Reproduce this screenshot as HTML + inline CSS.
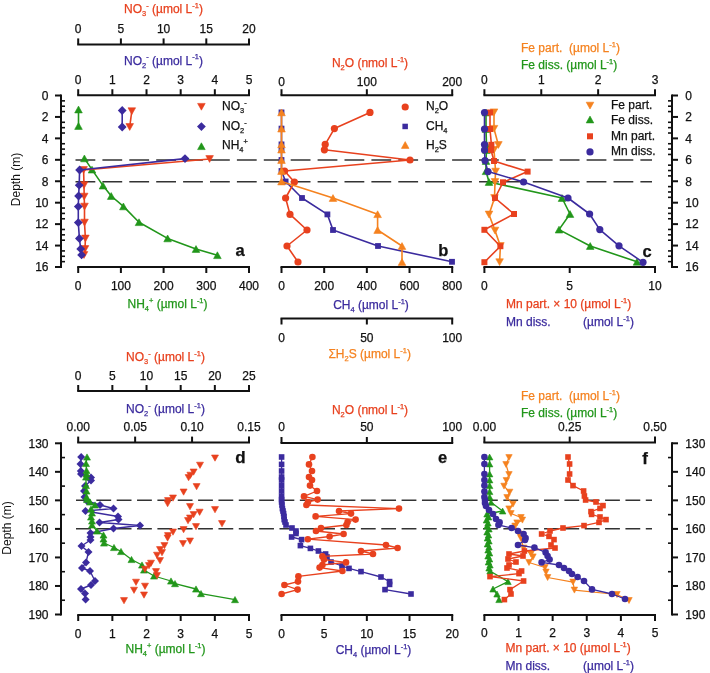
<!DOCTYPE html>
<html><head><meta charset="utf-8"><style>
html,body{margin:0;padding:0;background:#fff;width:710px;height:673px;overflow:hidden}
svg{display:block}
text{font-family:"Liberation Sans", sans-serif}
svg{will-change:transform}
</style></head><body>
<svg width="710" height="673" viewBox="0 0 710 673" font-family='"Liberation Sans", sans-serif'>
<rect width="710" height="673" fill="#fff"/>
<line x1="75.5" y1="160.0" x2="652" y2="160.0" stroke="#333" stroke-width="1.4" stroke-dasharray="19.8 7.1"/>
<line x1="75.5" y1="181.8" x2="652" y2="181.8" stroke="#333" stroke-width="1.4" stroke-dasharray="19.8 7.1"/>
<line x1="77.2" y1="44.4" x2="250.0" y2="44.4" stroke="#111" stroke-width="2" />
<line x1="78.2" y1="44.4" x2="78.2" y2="38.4" stroke="#111" stroke-width="2" />
<line x1="120.9" y1="44.4" x2="120.9" y2="38.4" stroke="#111" stroke-width="2" />
<line x1="163.60000000000002" y1="44.4" x2="163.60000000000002" y2="38.4" stroke="#111" stroke-width="2" />
<line x1="206.3" y1="44.4" x2="206.3" y2="38.4" stroke="#111" stroke-width="2" />
<line x1="249.0" y1="44.4" x2="249.0" y2="38.4" stroke="#111" stroke-width="2" />
<text x="78.2" y="33.32" text-anchor="middle" font-size="12.0" fill="#111" stroke="#111" stroke-width="0.25" font-weight="normal">0</text>
<text x="120.9" y="33.32" text-anchor="middle" font-size="12.0" fill="#111" stroke="#111" stroke-width="0.25" font-weight="normal">5</text>
<text x="163.60000000000002" y="33.32" text-anchor="middle" font-size="12.0" fill="#111" stroke="#111" stroke-width="0.25" font-weight="normal">10</text>
<text x="206.3" y="33.32" text-anchor="middle" font-size="12.0" fill="#111" stroke="#111" stroke-width="0.25" font-weight="normal">15</text>
<text x="249.0" y="33.32" text-anchor="middle" font-size="12.0" fill="#111" stroke="#111" stroke-width="0.25" font-weight="normal">20</text>
<line x1="77.2" y1="95.2" x2="250.0" y2="95.2" stroke="#111" stroke-width="2" />
<line x1="78.2" y1="95.2" x2="78.2" y2="89.2" stroke="#111" stroke-width="2" />
<line x1="112.36000000000001" y1="95.2" x2="112.36000000000001" y2="89.2" stroke="#111" stroke-width="2" />
<line x1="146.52" y1="95.2" x2="146.52" y2="89.2" stroke="#111" stroke-width="2" />
<line x1="180.68" y1="95.2" x2="180.68" y2="89.2" stroke="#111" stroke-width="2" />
<line x1="214.84000000000003" y1="95.2" x2="214.84000000000003" y2="89.2" stroke="#111" stroke-width="2" />
<line x1="249.0" y1="95.2" x2="249.0" y2="89.2" stroke="#111" stroke-width="2" />
<text x="78.2" y="84.32" text-anchor="middle" font-size="12.0" fill="#111" stroke="#111" stroke-width="0.25" font-weight="normal">0</text>
<text x="112.36000000000001" y="84.32" text-anchor="middle" font-size="12.0" fill="#111" stroke="#111" stroke-width="0.25" font-weight="normal">1</text>
<text x="146.52" y="84.32" text-anchor="middle" font-size="12.0" fill="#111" stroke="#111" stroke-width="0.25" font-weight="normal">2</text>
<text x="180.68" y="84.32" text-anchor="middle" font-size="12.0" fill="#111" stroke="#111" stroke-width="0.25" font-weight="normal">3</text>
<text x="214.84000000000003" y="84.32" text-anchor="middle" font-size="12.0" fill="#111" stroke="#111" stroke-width="0.25" font-weight="normal">4</text>
<text x="249.0" y="84.32" text-anchor="middle" font-size="12.0" fill="#111" stroke="#111" stroke-width="0.25" font-weight="normal">5</text>
<line x1="77.2" y1="267.0" x2="250.0" y2="267.0" stroke="#111" stroke-width="2" />
<line x1="78.2" y1="267.0" x2="78.2" y2="273.0" stroke="#111" stroke-width="2" />
<line x1="120.9" y1="267.0" x2="120.9" y2="273.0" stroke="#111" stroke-width="2" />
<line x1="163.60000000000002" y1="267.0" x2="163.60000000000002" y2="273.0" stroke="#111" stroke-width="2" />
<line x1="206.3" y1="267.0" x2="206.3" y2="273.0" stroke="#111" stroke-width="2" />
<line x1="249.0" y1="267.0" x2="249.0" y2="273.0" stroke="#111" stroke-width="2" />
<text x="78.2" y="289.82" text-anchor="middle" font-size="12.0" fill="#111" stroke="#111" stroke-width="0.25" font-weight="normal">0</text>
<text x="120.9" y="289.82" text-anchor="middle" font-size="12.0" fill="#111" stroke="#111" stroke-width="0.25" font-weight="normal">100</text>
<text x="163.60000000000002" y="289.82" text-anchor="middle" font-size="12.0" fill="#111" stroke="#111" stroke-width="0.25" font-weight="normal">200</text>
<text x="206.3" y="289.82" text-anchor="middle" font-size="12.0" fill="#111" stroke="#111" stroke-width="0.25" font-weight="normal">300</text>
<text x="249.0" y="289.82" text-anchor="middle" font-size="12.0" fill="#111" stroke="#111" stroke-width="0.25" font-weight="normal">400</text>
<text x="163.5" y="12.92" text-anchor="middle" font-size="12.0" fill="#e8411e" stroke="#e8411e" stroke-width="0.25"><tspan dy="0.00" font-size="12.00">NO</tspan><tspan dy="3.12" font-size="7.44">3</tspan><tspan dy="-8.16" font-size="7.44">-</tspan><tspan dy="5.04" font-size="12.00"> (µmol L</tspan><tspan dy="-5.04" font-size="7.44">-1</tspan><tspan dy="5.04" font-size="12.00">)</tspan></text>
<text x="163.5" y="64.52" text-anchor="middle" font-size="12.0" fill="#3b2b9e" stroke="#3b2b9e" stroke-width="0.25"><tspan dy="0.00" font-size="12.00">NO</tspan><tspan dy="3.12" font-size="7.44">2</tspan><tspan dy="-8.16" font-size="7.44">-</tspan><tspan dy="5.04" font-size="12.00"> (µmol L</tspan><tspan dy="-5.04" font-size="7.44">-1</tspan><tspan dy="5.04" font-size="12.00">)</tspan></text>
<text x="167.5" y="307.82" text-anchor="middle" font-size="12.0" fill="#21961a" stroke="#21961a" stroke-width="0.25"><tspan dy="0.00" font-size="12.00">NH</tspan><tspan dy="3.12" font-size="7.44">4</tspan><tspan dy="-8.16" font-size="7.44">+</tspan><tspan dy="5.04" font-size="12.00"> (µmol L</tspan><tspan dy="-5.04" font-size="7.44">-1</tspan><tspan dy="5.04" font-size="12.00">)</tspan></text>
<line x1="61" y1="94.5" x2="61" y2="268.0" stroke="#111" stroke-width="2" />
<line x1="55" y1="95.5" x2="61" y2="95.5" stroke="#111" stroke-width="2" />
<line x1="55" y1="116.9375" x2="61" y2="116.9375" stroke="#111" stroke-width="2" />
<line x1="55" y1="138.375" x2="61" y2="138.375" stroke="#111" stroke-width="2" />
<line x1="55" y1="159.8125" x2="61" y2="159.8125" stroke="#111" stroke-width="2" />
<line x1="55" y1="181.25" x2="61" y2="181.25" stroke="#111" stroke-width="2" />
<line x1="55" y1="202.6875" x2="61" y2="202.6875" stroke="#111" stroke-width="2" />
<line x1="55" y1="224.125" x2="61" y2="224.125" stroke="#111" stroke-width="2" />
<line x1="55" y1="245.5625" x2="61" y2="245.5625" stroke="#111" stroke-width="2" />
<line x1="55" y1="267.0" x2="61" y2="267.0" stroke="#111" stroke-width="2" />
<line x1="61" y1="100.859375" x2="65" y2="100.859375" stroke="#111" stroke-width="1.6" />
<line x1="61" y1="106.21875" x2="65" y2="106.21875" stroke="#111" stroke-width="1.6" />
<line x1="61" y1="111.578125" x2="65" y2="111.578125" stroke="#111" stroke-width="1.6" />
<line x1="61" y1="122.296875" x2="65" y2="122.296875" stroke="#111" stroke-width="1.6" />
<line x1="61" y1="127.65625" x2="65" y2="127.65625" stroke="#111" stroke-width="1.6" />
<line x1="61" y1="133.015625" x2="65" y2="133.015625" stroke="#111" stroke-width="1.6" />
<line x1="61" y1="143.734375" x2="65" y2="143.734375" stroke="#111" stroke-width="1.6" />
<line x1="61" y1="149.09375" x2="65" y2="149.09375" stroke="#111" stroke-width="1.6" />
<line x1="61" y1="154.453125" x2="65" y2="154.453125" stroke="#111" stroke-width="1.6" />
<line x1="61" y1="165.171875" x2="65" y2="165.171875" stroke="#111" stroke-width="1.6" />
<line x1="61" y1="170.53125" x2="65" y2="170.53125" stroke="#111" stroke-width="1.6" />
<line x1="61" y1="175.890625" x2="65" y2="175.890625" stroke="#111" stroke-width="1.6" />
<line x1="61" y1="186.609375" x2="65" y2="186.609375" stroke="#111" stroke-width="1.6" />
<line x1="61" y1="191.96875" x2="65" y2="191.96875" stroke="#111" stroke-width="1.6" />
<line x1="61" y1="197.328125" x2="65" y2="197.328125" stroke="#111" stroke-width="1.6" />
<line x1="61" y1="208.046875" x2="65" y2="208.046875" stroke="#111" stroke-width="1.6" />
<line x1="61" y1="213.40625" x2="65" y2="213.40625" stroke="#111" stroke-width="1.6" />
<line x1="61" y1="218.765625" x2="65" y2="218.765625" stroke="#111" stroke-width="1.6" />
<line x1="61" y1="229.484375" x2="65" y2="229.484375" stroke="#111" stroke-width="1.6" />
<line x1="61" y1="234.84375" x2="65" y2="234.84375" stroke="#111" stroke-width="1.6" />
<line x1="61" y1="240.203125" x2="65" y2="240.203125" stroke="#111" stroke-width="1.6" />
<line x1="61" y1="250.921875" x2="65" y2="250.921875" stroke="#111" stroke-width="1.6" />
<line x1="61" y1="256.28125" x2="65" y2="256.28125" stroke="#111" stroke-width="1.6" />
<line x1="61" y1="261.640625" x2="65" y2="261.640625" stroke="#111" stroke-width="1.6" />
<text x="48.5" y="99.82" text-anchor="end" font-size="12.0" fill="#111" stroke="#111" stroke-width="0.25" font-weight="normal">0</text>
<text x="48.5" y="121.26" text-anchor="end" font-size="12.0" fill="#111" stroke="#111" stroke-width="0.25" font-weight="normal">2</text>
<text x="48.5" y="142.69" text-anchor="end" font-size="12.0" fill="#111" stroke="#111" stroke-width="0.25" font-weight="normal">4</text>
<text x="48.5" y="164.13" text-anchor="end" font-size="12.0" fill="#111" stroke="#111" stroke-width="0.25" font-weight="normal">6</text>
<text x="48.5" y="185.57" text-anchor="end" font-size="12.0" fill="#111" stroke="#111" stroke-width="0.25" font-weight="normal">8</text>
<text x="48.5" y="207.01" text-anchor="end" font-size="12.0" fill="#111" stroke="#111" stroke-width="0.25" font-weight="normal">10</text>
<text x="48.5" y="228.44" text-anchor="end" font-size="12.0" fill="#111" stroke="#111" stroke-width="0.25" font-weight="normal">12</text>
<text x="48.5" y="249.88" text-anchor="end" font-size="12.0" fill="#111" stroke="#111" stroke-width="0.25" font-weight="normal">14</text>
<text x="48.5" y="271.32" text-anchor="end" font-size="12.0" fill="#111" stroke="#111" stroke-width="0.25" font-weight="normal">16</text>
<text transform="translate(19.7,179.5) rotate(-90)" text-anchor="middle" font-size="12" fill="#111">Depth (m)</text>
<line x1="280.5" y1="95.2" x2="453.2" y2="95.2" stroke="#111" stroke-width="2" />
<line x1="281.5" y1="95.2" x2="281.5" y2="89.2" stroke="#111" stroke-width="2" />
<line x1="366.85" y1="95.2" x2="366.85" y2="89.2" stroke="#111" stroke-width="2" />
<line x1="452.2" y1="95.2" x2="452.2" y2="89.2" stroke="#111" stroke-width="2" />
<text x="281.5" y="85.82" text-anchor="middle" font-size="12.0" fill="#111" stroke="#111" stroke-width="0.25" font-weight="normal">0</text>
<text x="366.85" y="85.82" text-anchor="middle" font-size="12.0" fill="#111" stroke="#111" stroke-width="0.25" font-weight="normal">100</text>
<text x="452.2" y="85.82" text-anchor="middle" font-size="12.0" fill="#111" stroke="#111" stroke-width="0.25" font-weight="normal">200</text>
<line x1="280.5" y1="267.0" x2="453.2" y2="267.0" stroke="#111" stroke-width="2" />
<line x1="281.5" y1="267.0" x2="281.5" y2="273.0" stroke="#111" stroke-width="2" />
<line x1="324.175" y1="267.0" x2="324.175" y2="273.0" stroke="#111" stroke-width="2" />
<line x1="366.85" y1="267.0" x2="366.85" y2="273.0" stroke="#111" stroke-width="2" />
<line x1="409.525" y1="267.0" x2="409.525" y2="273.0" stroke="#111" stroke-width="2" />
<line x1="452.2" y1="267.0" x2="452.2" y2="273.0" stroke="#111" stroke-width="2" />
<text x="281.5" y="289.82" text-anchor="middle" font-size="12.0" fill="#111" stroke="#111" stroke-width="0.25" font-weight="normal">0</text>
<text x="324.175" y="289.82" text-anchor="middle" font-size="12.0" fill="#111" stroke="#111" stroke-width="0.25" font-weight="normal">200</text>
<text x="366.85" y="289.82" text-anchor="middle" font-size="12.0" fill="#111" stroke="#111" stroke-width="0.25" font-weight="normal">400</text>
<text x="409.525" y="289.82" text-anchor="middle" font-size="12.0" fill="#111" stroke="#111" stroke-width="0.25" font-weight="normal">600</text>
<text x="452.2" y="289.82" text-anchor="middle" font-size="12.0" fill="#111" stroke="#111" stroke-width="0.25" font-weight="normal">800</text>
<line x1="280.5" y1="318.5" x2="453.2" y2="318.5" stroke="#111" stroke-width="2" />
<line x1="281.5" y1="318.5" x2="281.5" y2="324.5" stroke="#111" stroke-width="2" />
<line x1="366.85" y1="318.5" x2="366.85" y2="324.5" stroke="#111" stroke-width="2" />
<line x1="452.2" y1="318.5" x2="452.2" y2="324.5" stroke="#111" stroke-width="2" />
<text x="281.5" y="341.52" text-anchor="middle" font-size="12.0" fill="#111" stroke="#111" stroke-width="0.25" font-weight="normal">0</text>
<text x="366.85" y="341.52" text-anchor="middle" font-size="12.0" fill="#111" stroke="#111" stroke-width="0.25" font-weight="normal">50</text>
<text x="452.2" y="341.52" text-anchor="middle" font-size="12.0" fill="#111" stroke="#111" stroke-width="0.25" font-weight="normal">100</text>
<text x="370" y="66.72" text-anchor="middle" font-size="12.0" fill="#e8411e" stroke="#e8411e" stroke-width="0.25"><tspan dy="0.00" font-size="12.00">N</tspan><tspan dy="3.12" font-size="7.44">2</tspan><tspan dy="-3.12" font-size="12.00">O (nmol L</tspan><tspan dy="-5.04" font-size="7.44">-1</tspan><tspan dy="5.04" font-size="12.00">)</tspan></text>
<text x="371" y="308.72" text-anchor="middle" font-size="12.0" fill="#3b2b9e" stroke="#3b2b9e" stroke-width="0.25"><tspan dy="0.00" font-size="12.00">CH</tspan><tspan dy="3.12" font-size="7.44">4</tspan><tspan dy="-3.12" font-size="12.00"> (µmol L</tspan><tspan dy="-5.04" font-size="7.44">-1</tspan><tspan dy="5.04" font-size="12.00">)</tspan></text>
<text x="369.7" y="357.92" text-anchor="middle" font-size="12.0" fill="#f5821f" stroke="#f5821f" stroke-width="0.25"><tspan dy="0.00" font-size="12.00">ΣH</tspan><tspan dy="3.12" font-size="7.44">2</tspan><tspan dy="-3.12" font-size="12.00">S</tspan><tspan dy="0.00" font-size="12.00"> (µmol L</tspan><tspan dy="-5.04" font-size="7.44">-1</tspan><tspan dy="5.04" font-size="12.00">)</tspan></text>
<line x1="483.4" y1="95.2" x2="656.0" y2="95.2" stroke="#111" stroke-width="2" />
<line x1="484.4" y1="95.2" x2="484.4" y2="89.2" stroke="#111" stroke-width="2" />
<line x1="541.2666666666667" y1="95.2" x2="541.2666666666667" y2="89.2" stroke="#111" stroke-width="2" />
<line x1="598.1333333333333" y1="95.2" x2="598.1333333333333" y2="89.2" stroke="#111" stroke-width="2" />
<line x1="655.0" y1="95.2" x2="655.0" y2="89.2" stroke="#111" stroke-width="2" />
<text x="484.4" y="84.32" text-anchor="middle" font-size="12.0" fill="#111" stroke="#111" stroke-width="0.25" font-weight="normal">0</text>
<text x="541.2666666666667" y="84.32" text-anchor="middle" font-size="12.0" fill="#111" stroke="#111" stroke-width="0.25" font-weight="normal">1</text>
<text x="598.1333333333333" y="84.32" text-anchor="middle" font-size="12.0" fill="#111" stroke="#111" stroke-width="0.25" font-weight="normal">2</text>
<text x="655.0" y="84.32" text-anchor="middle" font-size="12.0" fill="#111" stroke="#111" stroke-width="0.25" font-weight="normal">3</text>
<line x1="483.4" y1="267.0" x2="656.0" y2="267.0" stroke="#111" stroke-width="2" />
<line x1="484.4" y1="267.0" x2="484.4" y2="273.0" stroke="#111" stroke-width="2" />
<line x1="569.7" y1="267.0" x2="569.7" y2="273.0" stroke="#111" stroke-width="2" />
<line x1="655.0" y1="267.0" x2="655.0" y2="273.0" stroke="#111" stroke-width="2" />
<text x="484.4" y="290.32" text-anchor="middle" font-size="12.0" fill="#111" stroke="#111" stroke-width="0.25" font-weight="normal">0</text>
<text x="569.7" y="290.32" text-anchor="middle" font-size="12.0" fill="#111" stroke="#111" stroke-width="0.25" font-weight="normal">5</text>
<text x="655.0" y="290.32" text-anchor="middle" font-size="12.0" fill="#111" stroke="#111" stroke-width="0.25" font-weight="normal">10</text>
<text x="521" y="52.32" text-anchor="start" font-size="12.0" fill="#f5821f" stroke="#f5821f" stroke-width="0.25"><tspan dy="0.00" font-size="12.00">Fe part.  (µmol L</tspan><tspan dy="-5.04" font-size="7.44">-1</tspan><tspan dy="5.04" font-size="12.00">)</tspan></text>
<text x="521" y="68.72" text-anchor="start" font-size="12.0" fill="#21961a" stroke="#21961a" stroke-width="0.25"><tspan dy="0.00" font-size="12.00">Fe diss. (µmol L</tspan><tspan dy="-5.04" font-size="7.44">-1</tspan><tspan dy="5.04" font-size="12.00">)</tspan></text>
<text x="506" y="308.32" text-anchor="start" font-size="12.0" fill="#e8411e" stroke="#e8411e" stroke-width="0.25"><tspan dy="0.00" font-size="12.00">Mn part. × 10 (µmol L</tspan><tspan dy="-5.04" font-size="7.44">-1</tspan><tspan dy="5.04" font-size="12.00">)</tspan></text>
<text x="506" y="326.32" text-anchor="start" font-size="12.0" fill="#3b2b9e" stroke="#3b2b9e" stroke-width="0.25"><tspan dy="0.00" font-size="12.00">Mn diss.</tspan></text>
<text x="583" y="326.32" text-anchor="start" font-size="12.0" fill="#3b2b9e" stroke="#3b2b9e" stroke-width="0.25"><tspan dy="0.00" font-size="12.00">(µmol L</tspan><tspan dy="-5.04" font-size="7.44">-1</tspan><tspan dy="5.04" font-size="12.00">)</tspan></text>
<line x1="672" y1="94.5" x2="672" y2="268.0" stroke="#111" stroke-width="2" />
<line x1="672" y1="95.5" x2="678" y2="95.5" stroke="#111" stroke-width="2" />
<line x1="672" y1="116.9375" x2="678" y2="116.9375" stroke="#111" stroke-width="2" />
<line x1="672" y1="138.375" x2="678" y2="138.375" stroke="#111" stroke-width="2" />
<line x1="672" y1="159.8125" x2="678" y2="159.8125" stroke="#111" stroke-width="2" />
<line x1="672" y1="181.25" x2="678" y2="181.25" stroke="#111" stroke-width="2" />
<line x1="672" y1="202.6875" x2="678" y2="202.6875" stroke="#111" stroke-width="2" />
<line x1="672" y1="224.125" x2="678" y2="224.125" stroke="#111" stroke-width="2" />
<line x1="672" y1="245.5625" x2="678" y2="245.5625" stroke="#111" stroke-width="2" />
<line x1="672" y1="267.0" x2="678" y2="267.0" stroke="#111" stroke-width="2" />
<line x1="668" y1="100.859375" x2="672" y2="100.859375" stroke="#111" stroke-width="1.6" />
<line x1="668" y1="106.21875" x2="672" y2="106.21875" stroke="#111" stroke-width="1.6" />
<line x1="668" y1="111.578125" x2="672" y2="111.578125" stroke="#111" stroke-width="1.6" />
<line x1="668" y1="122.296875" x2="672" y2="122.296875" stroke="#111" stroke-width="1.6" />
<line x1="668" y1="127.65625" x2="672" y2="127.65625" stroke="#111" stroke-width="1.6" />
<line x1="668" y1="133.015625" x2="672" y2="133.015625" stroke="#111" stroke-width="1.6" />
<line x1="668" y1="143.734375" x2="672" y2="143.734375" stroke="#111" stroke-width="1.6" />
<line x1="668" y1="149.09375" x2="672" y2="149.09375" stroke="#111" stroke-width="1.6" />
<line x1="668" y1="154.453125" x2="672" y2="154.453125" stroke="#111" stroke-width="1.6" />
<line x1="668" y1="165.171875" x2="672" y2="165.171875" stroke="#111" stroke-width="1.6" />
<line x1="668" y1="170.53125" x2="672" y2="170.53125" stroke="#111" stroke-width="1.6" />
<line x1="668" y1="175.890625" x2="672" y2="175.890625" stroke="#111" stroke-width="1.6" />
<line x1="668" y1="186.609375" x2="672" y2="186.609375" stroke="#111" stroke-width="1.6" />
<line x1="668" y1="191.96875" x2="672" y2="191.96875" stroke="#111" stroke-width="1.6" />
<line x1="668" y1="197.328125" x2="672" y2="197.328125" stroke="#111" stroke-width="1.6" />
<line x1="668" y1="208.046875" x2="672" y2="208.046875" stroke="#111" stroke-width="1.6" />
<line x1="668" y1="213.40625" x2="672" y2="213.40625" stroke="#111" stroke-width="1.6" />
<line x1="668" y1="218.765625" x2="672" y2="218.765625" stroke="#111" stroke-width="1.6" />
<line x1="668" y1="229.484375" x2="672" y2="229.484375" stroke="#111" stroke-width="1.6" />
<line x1="668" y1="234.84375" x2="672" y2="234.84375" stroke="#111" stroke-width="1.6" />
<line x1="668" y1="240.203125" x2="672" y2="240.203125" stroke="#111" stroke-width="1.6" />
<line x1="668" y1="250.921875" x2="672" y2="250.921875" stroke="#111" stroke-width="1.6" />
<line x1="668" y1="256.28125" x2="672" y2="256.28125" stroke="#111" stroke-width="1.6" />
<line x1="668" y1="261.640625" x2="672" y2="261.640625" stroke="#111" stroke-width="1.6" />
<text x="685.3" y="99.82" text-anchor="start" font-size="12.0" fill="#111" stroke="#111" stroke-width="0.25" font-weight="normal">0</text>
<text x="685.3" y="121.26" text-anchor="start" font-size="12.0" fill="#111" stroke="#111" stroke-width="0.25" font-weight="normal">2</text>
<text x="685.3" y="142.69" text-anchor="start" font-size="12.0" fill="#111" stroke="#111" stroke-width="0.25" font-weight="normal">4</text>
<text x="685.3" y="164.13" text-anchor="start" font-size="12.0" fill="#111" stroke="#111" stroke-width="0.25" font-weight="normal">6</text>
<text x="685.3" y="185.57" text-anchor="start" font-size="12.0" fill="#111" stroke="#111" stroke-width="0.25" font-weight="normal">8</text>
<text x="685.3" y="207.01" text-anchor="start" font-size="12.0" fill="#111" stroke="#111" stroke-width="0.25" font-weight="normal">10</text>
<text x="685.3" y="228.44" text-anchor="start" font-size="12.0" fill="#111" stroke="#111" stroke-width="0.25" font-weight="normal">12</text>
<text x="685.3" y="249.88" text-anchor="start" font-size="12.0" fill="#111" stroke="#111" stroke-width="0.25" font-weight="normal">14</text>
<text x="685.3" y="271.32" text-anchor="start" font-size="12.0" fill="#111" stroke="#111" stroke-width="0.25" font-weight="normal">16</text>
<text x="240" y="256.44" text-anchor="middle" font-size="16.5" fill="#111" stroke="#111" stroke-width="0.25" font-weight="bold">a</text>
<text x="443.3" y="256.44" text-anchor="middle" font-size="16.5" fill="#111" stroke="#111" stroke-width="0.25" font-weight="bold">b</text>
<text x="647" y="257.44" text-anchor="middle" font-size="16.5" fill="#111" stroke="#111" stroke-width="0.25" font-weight="bold">c</text>
<polygon points="201.4,110.2 197.6,103.4 205.2,103.4" fill="#e8411e" stroke="#e8411e" stroke-width="0.6" stroke-linejoin="round"/>
<polygon points="201.4,122.2 205.8,126.6 201.4,131.0 197.0,126.6" fill="#3b2b9e"/>
<polygon points="201.4,142.8 197.6,149.6 205.2,149.6" fill="#21961a" stroke="#21961a" stroke-width="0.6" stroke-linejoin="round"/>
<text x="222" y="109.92" text-anchor="start" font-size="12" fill="#111" stroke="#111" stroke-width="0.25"><tspan dy="0.00" font-size="12.00">NO</tspan><tspan dy="3.12" font-size="7.44">3</tspan><tspan dy="-8.16" font-size="7.44">-</tspan></text>
<text x="222" y="129.92" text-anchor="start" font-size="12" fill="#111" stroke="#111" stroke-width="0.25"><tspan dy="0.00" font-size="12.00">NO</tspan><tspan dy="3.12" font-size="7.44">2</tspan><tspan dy="-8.16" font-size="7.44">-</tspan></text>
<text x="222" y="149.32" text-anchor="start" font-size="12" fill="#111" stroke="#111" stroke-width="0.25"><tspan dy="0.00" font-size="12.00">NH</tspan><tspan dy="3.12" font-size="7.44">4</tspan><tspan dy="-8.16" font-size="7.44">+</tspan></text>
<circle cx="405.2" cy="107.0" r="3.6" fill="#e8411e"/>
<rect x="402.4" y="123.7" width="5.5" height="5.5" fill="#3b2b9e"/>
<polygon points="405.2,141.6 401.4,148.4 409.0,148.4" fill="#f5821f" stroke="#f5821f" stroke-width="0.6" stroke-linejoin="round"/>
<text x="426" y="110.32" text-anchor="start" font-size="12" fill="#111" stroke="#111" stroke-width="0.25"><tspan dy="0.00" font-size="12.00">N</tspan><tspan dy="3.12" font-size="7.44">2</tspan><tspan dy="-3.12" font-size="12.00">O</tspan></text>
<text x="426" y="129.92" text-anchor="start" font-size="12" fill="#111" stroke="#111" stroke-width="0.25"><tspan dy="0.00" font-size="12.00">CH</tspan><tspan dy="3.12" font-size="7.44">4</tspan></text>
<text x="426" y="148.72" text-anchor="start" font-size="12" fill="#111" stroke="#111" stroke-width="0.25"><tspan dy="0.00" font-size="12.00">H</tspan><tspan dy="3.12" font-size="7.44">2</tspan><tspan dy="-3.12" font-size="12.00">S</tspan></text>
<polygon points="590.0,109.0 586.2,102.2 593.8,102.2" fill="#f5821f" stroke="#f5821f" stroke-width="0.6" stroke-linejoin="round"/>
<polygon points="590.0,116.1 586.2,122.9 593.8,122.9" fill="#21961a" stroke="#21961a" stroke-width="0.6" stroke-linejoin="round"/>
<rect x="587.0" y="133.3" width="6" height="6" fill="#e8411e"/>
<circle cx="590.0" cy="151.9" r="3.6" fill="#3b2b9e"/>
<text x="611" y="108.52" text-anchor="start" font-size="12" fill="#111" stroke="#111" stroke-width="0.25" font-weight="normal">Fe part.</text>
<text x="611" y="124.42" text-anchor="start" font-size="12" fill="#111" stroke="#111" stroke-width="0.25" font-weight="normal">Fe diss.</text>
<text x="611" y="139.92" text-anchor="start" font-size="12" fill="#111" stroke="#111" stroke-width="0.25" font-weight="normal">Mn part.</text>
<text x="611" y="155.32" text-anchor="start" font-size="12" fill="#111" stroke="#111" stroke-width="0.25" font-weight="normal">Mn diss.</text>
<polyline points="131.8,111.2 129.7,127.0" fill="none" stroke="#e8411e" stroke-width="1.6" stroke-linejoin="round"/>
<polygon points="131.8,114.6 128.0,107.8 135.6,107.8" fill="#e8411e" stroke="#e8411e" stroke-width="0.6" stroke-linejoin="round"/>
<polygon points="129.7,130.4 125.9,123.6 133.5,123.6" fill="#e8411e" stroke="#e8411e" stroke-width="0.6" stroke-linejoin="round"/>
<polyline points="78.5,109.5 78.5,126.0" fill="none" stroke="#21961a" stroke-width="1.6" stroke-linejoin="round"/>
<polygon points="78.5,106.1 74.7,112.9 82.3,112.9" fill="#21961a" stroke="#21961a" stroke-width="0.6" stroke-linejoin="round"/>
<polygon points="78.5,122.6 74.7,129.4 82.3,129.4" fill="#21961a" stroke="#21961a" stroke-width="0.6" stroke-linejoin="round"/>
<polyline points="122.2,110.5 122.2,127.0" fill="none" stroke="#3b2b9e" stroke-width="1.6" stroke-linejoin="round"/>
<polygon points="122.2,106.1 126.6,110.5 122.2,114.9 117.8,110.5" fill="#3b2b9e"/>
<polygon points="122.2,122.6 126.6,127.0 122.2,131.4 117.8,127.0" fill="#3b2b9e"/>
<polyline points="84.4,158.4 92.0,169.6 103.0,185.6 111.2,196.0 123.4,206.4 139.0,222.2 167.6,238.4 196.0,249.0 217.4,255.2" fill="none" stroke="#21961a" stroke-width="1.6" stroke-linejoin="round"/>
<polygon points="84.4,155.0 80.6,161.8 88.2,161.8" fill="#21961a" stroke="#21961a" stroke-width="0.6" stroke-linejoin="round"/>
<polygon points="92.0,166.2 88.2,173.0 95.8,173.0" fill="#21961a" stroke="#21961a" stroke-width="0.6" stroke-linejoin="round"/>
<polygon points="103.0,182.2 99.2,189.0 106.8,189.0" fill="#21961a" stroke="#21961a" stroke-width="0.6" stroke-linejoin="round"/>
<polygon points="111.2,192.6 107.4,199.4 115.0,199.4" fill="#21961a" stroke="#21961a" stroke-width="0.6" stroke-linejoin="round"/>
<polygon points="123.4,203.0 119.6,209.8 127.2,209.8" fill="#21961a" stroke="#21961a" stroke-width="0.6" stroke-linejoin="round"/>
<polygon points="139.0,218.8 135.2,225.6 142.8,225.6" fill="#21961a" stroke="#21961a" stroke-width="0.6" stroke-linejoin="round"/>
<polygon points="167.6,235.0 163.8,241.8 171.4,241.8" fill="#21961a" stroke="#21961a" stroke-width="0.6" stroke-linejoin="round"/>
<polygon points="196.0,245.6 192.2,252.4 199.8,252.4" fill="#21961a" stroke="#21961a" stroke-width="0.6" stroke-linejoin="round"/>
<polygon points="217.4,251.8 213.6,258.6 221.2,258.6" fill="#21961a" stroke="#21961a" stroke-width="0.6" stroke-linejoin="round"/>
<polyline points="209.6,159.0 83.6,170.0 84.0,185.2 84.2,196.6 84.5,206.6 84.5,222.6 85.4,238.5 85.0,249.0 84.0,255.0" fill="none" stroke="#e8411e" stroke-width="1.6" stroke-linejoin="round"/>
<polygon points="209.6,162.4 205.8,155.6 213.4,155.6" fill="#e8411e" stroke="#e8411e" stroke-width="0.6" stroke-linejoin="round"/>
<polygon points="83.6,173.4 79.8,166.6 87.4,166.6" fill="#e8411e" stroke="#e8411e" stroke-width="0.6" stroke-linejoin="round"/>
<polygon points="84.0,188.6 80.2,181.8 87.8,181.8" fill="#e8411e" stroke="#e8411e" stroke-width="0.6" stroke-linejoin="round"/>
<polygon points="84.2,200.0 80.4,193.2 88.0,193.2" fill="#e8411e" stroke="#e8411e" stroke-width="0.6" stroke-linejoin="round"/>
<polygon points="84.5,210.0 80.7,203.2 88.3,203.2" fill="#e8411e" stroke="#e8411e" stroke-width="0.6" stroke-linejoin="round"/>
<polygon points="84.5,226.0 80.7,219.2 88.3,219.2" fill="#e8411e" stroke="#e8411e" stroke-width="0.6" stroke-linejoin="round"/>
<polygon points="85.4,241.9 81.6,235.1 89.2,235.1" fill="#e8411e" stroke="#e8411e" stroke-width="0.6" stroke-linejoin="round"/>
<polygon points="85.0,252.4 81.2,245.6 88.8,245.6" fill="#e8411e" stroke="#e8411e" stroke-width="0.6" stroke-linejoin="round"/>
<polygon points="84.0,258.4 80.2,251.6 87.8,251.6" fill="#e8411e" stroke="#e8411e" stroke-width="0.6" stroke-linejoin="round"/>
<polyline points="185.0,158.6 79.6,170.0 79.2,185.2 78.6,196.0 78.3,206.6 78.3,222.6 79.4,238.5 80.7,248.9 81.6,254.9" fill="none" stroke="#3b2b9e" stroke-width="1.6" stroke-linejoin="round"/>
<polygon points="185.0,154.2 189.4,158.6 185.0,163.0 180.6,158.6" fill="#3b2b9e"/>
<polygon points="79.6,165.6 84.0,170.0 79.6,174.4 75.2,170.0" fill="#3b2b9e"/>
<polygon points="79.2,180.8 83.6,185.2 79.2,189.6 74.8,185.2" fill="#3b2b9e"/>
<polygon points="78.6,191.6 83.0,196.0 78.6,200.4 74.2,196.0" fill="#3b2b9e"/>
<polygon points="78.3,202.2 82.7,206.6 78.3,211.0 73.9,206.6" fill="#3b2b9e"/>
<polygon points="78.3,218.2 82.7,222.6 78.3,227.0 73.9,222.6" fill="#3b2b9e"/>
<polygon points="79.4,234.1 83.8,238.5 79.4,242.9 75.0,238.5" fill="#3b2b9e"/>
<polygon points="80.7,244.5 85.1,248.9 80.7,253.3 76.3,248.9" fill="#3b2b9e"/>
<polygon points="81.6,250.5 86.0,254.9 81.6,259.3 77.2,254.9" fill="#3b2b9e"/>
<polyline points="281.5,112.4 281.5,128.6 281.5,144.4 281.5,149.6 281.5,160.0 281.5,171.0 285.6,181.5 302.0,198.0 327.4,214.4 333.0,230.0 378.0,246.0 452.0,261.8" fill="none" stroke="#3b2b9e" stroke-width="1.6" stroke-linejoin="round"/>
<rect x="278.6" y="109.5" width="5.8" height="5.8" fill="#3b2b9e"/>
<rect x="278.6" y="125.7" width="5.8" height="5.8" fill="#3b2b9e"/>
<rect x="278.6" y="141.5" width="5.8" height="5.8" fill="#3b2b9e"/>
<rect x="278.6" y="146.7" width="5.8" height="5.8" fill="#3b2b9e"/>
<rect x="278.6" y="157.1" width="5.8" height="5.8" fill="#3b2b9e"/>
<rect x="278.6" y="168.1" width="5.8" height="5.8" fill="#3b2b9e"/>
<rect x="282.7" y="178.6" width="5.8" height="5.8" fill="#3b2b9e"/>
<rect x="299.1" y="195.1" width="5.8" height="5.8" fill="#3b2b9e"/>
<rect x="324.5" y="211.5" width="5.8" height="5.8" fill="#3b2b9e"/>
<rect x="330.1" y="227.1" width="5.8" height="5.8" fill="#3b2b9e"/>
<rect x="375.1" y="243.1" width="5.8" height="5.8" fill="#3b2b9e"/>
<rect x="449.1" y="258.9" width="5.8" height="5.8" fill="#3b2b9e"/>
<polyline points="370.0,112.4 334.4,128.6 325.2,144.4 324.4,149.8 410.0,160.0 284.6,171.0 294.4,182.0 285.6,198.0 290.0,214.4 307.0,230.0 287.0,246.0 298.0,262.0" fill="none" stroke="#e8411e" stroke-width="1.6" stroke-linejoin="round"/>
<circle cx="370.0" cy="112.4" r="3.6" fill="#e8411e"/>
<circle cx="334.4" cy="128.6" r="3.6" fill="#e8411e"/>
<circle cx="325.2" cy="144.4" r="3.6" fill="#e8411e"/>
<circle cx="324.4" cy="149.8" r="3.6" fill="#e8411e"/>
<circle cx="410.0" cy="160.0" r="3.6" fill="#e8411e"/>
<circle cx="284.6" cy="171.0" r="3.6" fill="#e8411e"/>
<circle cx="294.4" cy="182.0" r="3.6" fill="#e8411e"/>
<circle cx="285.6" cy="198.0" r="3.6" fill="#e8411e"/>
<circle cx="290.0" cy="214.4" r="3.6" fill="#e8411e"/>
<circle cx="307.0" cy="230.0" r="3.6" fill="#e8411e"/>
<circle cx="287.0" cy="246.0" r="3.6" fill="#e8411e"/>
<circle cx="298.0" cy="262.0" r="3.6" fill="#e8411e"/>
<polyline points="281.5,112.4 281.5,128.6 281.5,144.4 281.5,149.6 281.5,160.0 281.5,171.0 281.5,181.5 333.0,198.0 377.6,214.2 377.6,230.0 402.0,246.0 402.0,262.0" fill="none" stroke="#f5821f" stroke-width="1.6" stroke-linejoin="round"/>
<polygon points="281.5,109.0 277.7,115.8 285.3,115.8" fill="#f5821f" stroke="#f5821f" stroke-width="0.6" stroke-linejoin="round"/>
<polygon points="281.5,125.2 277.7,132.0 285.3,132.0" fill="#f5821f" stroke="#f5821f" stroke-width="0.6" stroke-linejoin="round"/>
<polygon points="281.5,141.0 277.7,147.8 285.3,147.8" fill="#f5821f" stroke="#f5821f" stroke-width="0.6" stroke-linejoin="round"/>
<polygon points="281.5,146.2 277.7,153.0 285.3,153.0" fill="#f5821f" stroke="#f5821f" stroke-width="0.6" stroke-linejoin="round"/>
<polygon points="281.5,156.6 277.7,163.4 285.3,163.4" fill="#f5821f" stroke="#f5821f" stroke-width="0.6" stroke-linejoin="round"/>
<polygon points="281.5,167.6 277.7,174.4 285.3,174.4" fill="#f5821f" stroke="#f5821f" stroke-width="0.6" stroke-linejoin="round"/>
<polygon points="281.5,178.1 277.7,184.9 285.3,184.9" fill="#f5821f" stroke="#f5821f" stroke-width="0.6" stroke-linejoin="round"/>
<polygon points="333.0,194.6 329.2,201.4 336.8,201.4" fill="#f5821f" stroke="#f5821f" stroke-width="0.6" stroke-linejoin="round"/>
<polygon points="377.6,210.8 373.8,217.6 381.4,217.6" fill="#f5821f" stroke="#f5821f" stroke-width="0.6" stroke-linejoin="round"/>
<polygon points="377.6,226.6 373.8,233.4 381.4,233.4" fill="#f5821f" stroke="#f5821f" stroke-width="0.6" stroke-linejoin="round"/>
<polygon points="402.0,242.6 398.2,249.4 405.8,249.4" fill="#f5821f" stroke="#f5821f" stroke-width="0.6" stroke-linejoin="round"/>
<polygon points="402.0,258.6 398.2,265.4 405.8,265.4" fill="#f5821f" stroke="#f5821f" stroke-width="0.6" stroke-linejoin="round"/>
<polyline points="486.0,112.5 486.0,129.0 486.5,144.8 486.5,150.0 486.0,161.0 486.0,171.2 489.0,182.0 562.0,198.0 570.0,214.0 559.0,229.6 590.2,246.0 637.0,261.8" fill="none" stroke="#21961a" stroke-width="1.6" stroke-linejoin="round"/>
<polygon points="486.0,109.1 482.2,115.9 489.8,115.9" fill="#21961a" stroke="#21961a" stroke-width="0.6" stroke-linejoin="round"/>
<polygon points="486.0,125.6 482.2,132.4 489.8,132.4" fill="#21961a" stroke="#21961a" stroke-width="0.6" stroke-linejoin="round"/>
<polygon points="486.5,141.4 482.7,148.2 490.3,148.2" fill="#21961a" stroke="#21961a" stroke-width="0.6" stroke-linejoin="round"/>
<polygon points="486.5,146.6 482.7,153.4 490.3,153.4" fill="#21961a" stroke="#21961a" stroke-width="0.6" stroke-linejoin="round"/>
<polygon points="486.0,157.6 482.2,164.4 489.8,164.4" fill="#21961a" stroke="#21961a" stroke-width="0.6" stroke-linejoin="round"/>
<polygon points="486.0,167.8 482.2,174.6 489.8,174.6" fill="#21961a" stroke="#21961a" stroke-width="0.6" stroke-linejoin="round"/>
<polygon points="489.0,178.6 485.2,185.4 492.8,185.4" fill="#21961a" stroke="#21961a" stroke-width="0.6" stroke-linejoin="round"/>
<polygon points="562.0,194.6 558.2,201.4 565.8,201.4" fill="#21961a" stroke="#21961a" stroke-width="0.6" stroke-linejoin="round"/>
<polygon points="570.0,210.6 566.2,217.4 573.8,217.4" fill="#21961a" stroke="#21961a" stroke-width="0.6" stroke-linejoin="round"/>
<polygon points="559.0,226.2 555.2,233.0 562.8,233.0" fill="#21961a" stroke="#21961a" stroke-width="0.6" stroke-linejoin="round"/>
<polygon points="590.2,242.6 586.4,249.4 594.0,249.4" fill="#21961a" stroke="#21961a" stroke-width="0.6" stroke-linejoin="round"/>
<polygon points="637.0,258.4 633.2,265.2 640.8,265.2" fill="#21961a" stroke="#21961a" stroke-width="0.6" stroke-linejoin="round"/>
<polyline points="494.0,112.3 494.0,128.8 498.4,145.0 494.0,150.0 495.6,171.6 495.0,182.0 494.5,198.0 489.0,214.5 495.0,230.6 500.4,246.0 499.6,262.2" fill="none" stroke="#f5821f" stroke-width="1.6" stroke-linejoin="round"/>
<polygon points="494.0,115.7 490.2,108.9 497.8,108.9" fill="#f5821f" stroke="#f5821f" stroke-width="0.6" stroke-linejoin="round"/>
<polygon points="494.0,132.2 490.2,125.4 497.8,125.4" fill="#f5821f" stroke="#f5821f" stroke-width="0.6" stroke-linejoin="round"/>
<polygon points="498.4,148.4 494.6,141.6 502.2,141.6" fill="#f5821f" stroke="#f5821f" stroke-width="0.6" stroke-linejoin="round"/>
<polygon points="494.0,153.4 490.2,146.6 497.8,146.6" fill="#f5821f" stroke="#f5821f" stroke-width="0.6" stroke-linejoin="round"/>
<polygon points="495.6,175.0 491.8,168.2 499.4,168.2" fill="#f5821f" stroke="#f5821f" stroke-width="0.6" stroke-linejoin="round"/>
<polygon points="495.0,185.4 491.2,178.6 498.8,178.6" fill="#f5821f" stroke="#f5821f" stroke-width="0.6" stroke-linejoin="round"/>
<polygon points="494.5,201.4 490.7,194.6 498.3,194.6" fill="#f5821f" stroke="#f5821f" stroke-width="0.6" stroke-linejoin="round"/>
<polygon points="489.0,217.9 485.2,211.1 492.8,211.1" fill="#f5821f" stroke="#f5821f" stroke-width="0.6" stroke-linejoin="round"/>
<polygon points="495.0,234.0 491.2,227.2 498.8,227.2" fill="#f5821f" stroke="#f5821f" stroke-width="0.6" stroke-linejoin="round"/>
<polygon points="500.4,249.4 496.6,242.6 504.2,242.6" fill="#f5821f" stroke="#f5821f" stroke-width="0.6" stroke-linejoin="round"/>
<polygon points="499.6,265.6 495.8,258.8 503.4,258.8" fill="#f5821f" stroke="#f5821f" stroke-width="0.6" stroke-linejoin="round"/>
<polyline points="490.0,112.5 490.0,129.0 491.4,144.8 491.0,150.0 494.0,161.0 527.6,171.6 503.0,182.3 495.0,198.0 514.0,214.0 484.4,229.8 500.4,246.2 484.4,262.2" fill="none" stroke="#e8411e" stroke-width="1.6" stroke-linejoin="round"/>
<rect x="487.0" y="109.5" width="6" height="6" fill="#e8411e"/>
<rect x="487.0" y="126.0" width="6" height="6" fill="#e8411e"/>
<rect x="488.4" y="141.8" width="6" height="6" fill="#e8411e"/>
<rect x="488.0" y="147.0" width="6" height="6" fill="#e8411e"/>
<rect x="491.0" y="158.0" width="6" height="6" fill="#e8411e"/>
<rect x="524.6" y="168.6" width="6" height="6" fill="#e8411e"/>
<rect x="500.0" y="179.3" width="6" height="6" fill="#e8411e"/>
<rect x="492.0" y="195.0" width="6" height="6" fill="#e8411e"/>
<rect x="511.0" y="211.0" width="6" height="6" fill="#e8411e"/>
<rect x="481.4" y="226.8" width="6" height="6" fill="#e8411e"/>
<rect x="497.4" y="243.2" width="6" height="6" fill="#e8411e"/>
<rect x="481.4" y="259.2" width="6" height="6" fill="#e8411e"/>
<polyline points="484.5,112.5 484.5,129.0 484.5,144.5 484.5,150.0 485.0,160.6 488.0,171.6 523.6,182.0 568.0,198.0 589.6,214.0 599.8,229.6 619.0,245.8 643.0,262.3" fill="none" stroke="#3b2b9e" stroke-width="1.6" stroke-linejoin="round"/>
<circle cx="484.5" cy="112.5" r="3.6" fill="#3b2b9e"/>
<circle cx="484.5" cy="129.0" r="3.6" fill="#3b2b9e"/>
<circle cx="484.5" cy="144.5" r="3.6" fill="#3b2b9e"/>
<circle cx="484.5" cy="150.0" r="3.6" fill="#3b2b9e"/>
<circle cx="485.0" cy="160.6" r="3.6" fill="#3b2b9e"/>
<circle cx="488.0" cy="171.6" r="3.6" fill="#3b2b9e"/>
<circle cx="523.6" cy="182.0" r="3.6" fill="#3b2b9e"/>
<circle cx="568.0" cy="198.0" r="3.6" fill="#3b2b9e"/>
<circle cx="589.6" cy="214.0" r="3.6" fill="#3b2b9e"/>
<circle cx="599.8" cy="229.6" r="3.6" fill="#3b2b9e"/>
<circle cx="619.0" cy="245.8" r="3.6" fill="#3b2b9e"/>
<circle cx="643.0" cy="262.3" r="3.6" fill="#3b2b9e"/>
<line x1="76" y1="500.3" x2="652" y2="500.3" stroke="#333" stroke-width="1.4" stroke-dasharray="14.8 5.55"/>
<line x1="76" y1="528.8" x2="652" y2="528.8" stroke="#333" stroke-width="1.4" stroke-dasharray="14.8 5.55"/>
<line x1="77.2" y1="391" x2="250.0" y2="391" stroke="#111" stroke-width="2" />
<line x1="78.2" y1="391" x2="78.2" y2="385" stroke="#111" stroke-width="2" />
<line x1="112.36000000000001" y1="391" x2="112.36000000000001" y2="385" stroke="#111" stroke-width="2" />
<line x1="146.52" y1="391" x2="146.52" y2="385" stroke="#111" stroke-width="2" />
<line x1="180.68" y1="391" x2="180.68" y2="385" stroke="#111" stroke-width="2" />
<line x1="214.84000000000003" y1="391" x2="214.84000000000003" y2="385" stroke="#111" stroke-width="2" />
<line x1="249.0" y1="391" x2="249.0" y2="385" stroke="#111" stroke-width="2" />
<text x="78.2" y="380.32" text-anchor="middle" font-size="12.0" fill="#111" stroke="#111" stroke-width="0.25" font-weight="normal">0</text>
<text x="112.36000000000001" y="380.32" text-anchor="middle" font-size="12.0" fill="#111" stroke="#111" stroke-width="0.25" font-weight="normal">5</text>
<text x="146.52" y="380.32" text-anchor="middle" font-size="12.0" fill="#111" stroke="#111" stroke-width="0.25" font-weight="normal">10</text>
<text x="180.68" y="380.32" text-anchor="middle" font-size="12.0" fill="#111" stroke="#111" stroke-width="0.25" font-weight="normal">15</text>
<text x="214.84000000000003" y="380.32" text-anchor="middle" font-size="12.0" fill="#111" stroke="#111" stroke-width="0.25" font-weight="normal">20</text>
<text x="249.0" y="380.32" text-anchor="middle" font-size="12.0" fill="#111" stroke="#111" stroke-width="0.25" font-weight="normal">25</text>
<line x1="77.2" y1="442.6" x2="250.0" y2="442.6" stroke="#111" stroke-width="2" />
<line x1="78.2" y1="442.6" x2="78.2" y2="436.6" stroke="#111" stroke-width="2" />
<line x1="135.13333333333333" y1="442.6" x2="135.13333333333333" y2="436.6" stroke="#111" stroke-width="2" />
<line x1="192.06666666666666" y1="442.6" x2="192.06666666666666" y2="436.6" stroke="#111" stroke-width="2" />
<line x1="249.00000000000006" y1="442.6" x2="249.00000000000006" y2="436.6" stroke="#111" stroke-width="2" />
<text x="78.2" y="431.32" text-anchor="middle" font-size="12.0" fill="#111" stroke="#111" stroke-width="0.25" font-weight="normal">0.00</text>
<text x="135.13333333333333" y="431.32" text-anchor="middle" font-size="12.0" fill="#111" stroke="#111" stroke-width="0.25" font-weight="normal">0.05</text>
<text x="192.06666666666666" y="431.32" text-anchor="middle" font-size="12.0" fill="#111" stroke="#111" stroke-width="0.25" font-weight="normal">0.10</text>
<text x="249.00000000000006" y="431.32" text-anchor="middle" font-size="12.0" fill="#111" stroke="#111" stroke-width="0.25" font-weight="normal">0.15</text>
<line x1="77.2" y1="615" x2="250.0" y2="615" stroke="#111" stroke-width="2" />
<line x1="78.2" y1="615" x2="78.2" y2="621" stroke="#111" stroke-width="2" />
<line x1="112.36000000000001" y1="615" x2="112.36000000000001" y2="621" stroke="#111" stroke-width="2" />
<line x1="146.52" y1="615" x2="146.52" y2="621" stroke="#111" stroke-width="2" />
<line x1="180.68" y1="615" x2="180.68" y2="621" stroke="#111" stroke-width="2" />
<line x1="214.84000000000003" y1="615" x2="214.84000000000003" y2="621" stroke="#111" stroke-width="2" />
<line x1="249.0" y1="615" x2="249.0" y2="621" stroke="#111" stroke-width="2" />
<text x="78.2" y="637.92" text-anchor="middle" font-size="12.0" fill="#111" stroke="#111" stroke-width="0.25" font-weight="normal">0</text>
<text x="112.36000000000001" y="637.92" text-anchor="middle" font-size="12.0" fill="#111" stroke="#111" stroke-width="0.25" font-weight="normal">1</text>
<text x="146.52" y="637.92" text-anchor="middle" font-size="12.0" fill="#111" stroke="#111" stroke-width="0.25" font-weight="normal">2</text>
<text x="180.68" y="637.92" text-anchor="middle" font-size="12.0" fill="#111" stroke="#111" stroke-width="0.25" font-weight="normal">3</text>
<text x="214.84000000000003" y="637.92" text-anchor="middle" font-size="12.0" fill="#111" stroke="#111" stroke-width="0.25" font-weight="normal">4</text>
<text x="249.0" y="637.92" text-anchor="middle" font-size="12.0" fill="#111" stroke="#111" stroke-width="0.25" font-weight="normal">5</text>
<text x="165.5" y="360.72" text-anchor="middle" font-size="12.0" fill="#e8411e" stroke="#e8411e" stroke-width="0.25"><tspan dy="0.00" font-size="12.00">NO</tspan><tspan dy="3.12" font-size="7.44">3</tspan><tspan dy="-8.16" font-size="7.44">-</tspan><tspan dy="5.04" font-size="12.00"> (µmol L</tspan><tspan dy="-5.04" font-size="7.44">-1</tspan><tspan dy="5.04" font-size="12.00">)</tspan></text>
<text x="165.5" y="413.32" text-anchor="middle" font-size="12.0" fill="#3b2b9e" stroke="#3b2b9e" stroke-width="0.25"><tspan dy="0.00" font-size="12.00">NO</tspan><tspan dy="3.12" font-size="7.44">2</tspan><tspan dy="-8.16" font-size="7.44">-</tspan><tspan dy="5.04" font-size="12.00"> (µmol L</tspan><tspan dy="-5.04" font-size="7.44">-1</tspan><tspan dy="5.04" font-size="12.00">)</tspan></text>
<text x="165.5" y="653.32" text-anchor="middle" font-size="12.0" fill="#21961a" stroke="#21961a" stroke-width="0.25"><tspan dy="0.00" font-size="12.00">NH</tspan><tspan dy="3.12" font-size="7.44">4</tspan><tspan dy="-8.16" font-size="7.44">+</tspan><tspan dy="5.04" font-size="12.00"> (µmol L</tspan><tspan dy="-5.04" font-size="7.44">-1</tspan><tspan dy="5.04" font-size="12.00">)</tspan></text>
<line x1="61" y1="442.3" x2="61" y2="615.5" stroke="#111" stroke-width="2" />
<line x1="55" y1="443.3" x2="61" y2="443.3" stroke="#111" stroke-width="2" />
<line x1="55" y1="471.83333333333337" x2="61" y2="471.83333333333337" stroke="#111" stroke-width="2" />
<line x1="55" y1="500.3666666666667" x2="61" y2="500.3666666666667" stroke="#111" stroke-width="2" />
<line x1="55" y1="528.9" x2="61" y2="528.9" stroke="#111" stroke-width="2" />
<line x1="55" y1="557.4333333333334" x2="61" y2="557.4333333333334" stroke="#111" stroke-width="2" />
<line x1="55" y1="585.9666666666667" x2="61" y2="585.9666666666667" stroke="#111" stroke-width="2" />
<line x1="55" y1="614.5" x2="61" y2="614.5" stroke="#111" stroke-width="2" />
<line x1="61" y1="457.56666666666666" x2="65" y2="457.56666666666666" stroke="#111" stroke-width="1.6" />
<line x1="61" y1="486.1" x2="65" y2="486.1" stroke="#111" stroke-width="1.6" />
<line x1="61" y1="514.6333333333333" x2="65" y2="514.6333333333333" stroke="#111" stroke-width="1.6" />
<line x1="61" y1="543.1666666666666" x2="65" y2="543.1666666666666" stroke="#111" stroke-width="1.6" />
<line x1="61" y1="571.7" x2="65" y2="571.7" stroke="#111" stroke-width="1.6" />
<line x1="61" y1="600.2333333333333" x2="65" y2="600.2333333333333" stroke="#111" stroke-width="1.6" />
<text x="48.5" y="447.62" text-anchor="end" font-size="12.0" fill="#111" stroke="#111" stroke-width="0.25" font-weight="normal">130</text>
<text x="48.5" y="476.15" text-anchor="end" font-size="12.0" fill="#111" stroke="#111" stroke-width="0.25" font-weight="normal">140</text>
<text x="48.5" y="504.69" text-anchor="end" font-size="12.0" fill="#111" stroke="#111" stroke-width="0.25" font-weight="normal">150</text>
<text x="48.5" y="533.22" text-anchor="end" font-size="12.0" fill="#111" stroke="#111" stroke-width="0.25" font-weight="normal">160</text>
<text x="48.5" y="561.75" text-anchor="end" font-size="12.0" fill="#111" stroke="#111" stroke-width="0.25" font-weight="normal">170</text>
<text x="48.5" y="590.29" text-anchor="end" font-size="12.0" fill="#111" stroke="#111" stroke-width="0.25" font-weight="normal">180</text>
<text x="48.5" y="618.82" text-anchor="end" font-size="12.0" fill="#111" stroke="#111" stroke-width="0.25" font-weight="normal">190</text>
<text transform="translate(10.7,528) rotate(-90)" text-anchor="middle" font-size="12" fill="#111">Depth (m)</text>
<line x1="280.5" y1="443" x2="453.2" y2="443" stroke="#111" stroke-width="2" />
<line x1="281.5" y1="443" x2="281.5" y2="437" stroke="#111" stroke-width="2" />
<line x1="366.85" y1="443" x2="366.85" y2="437" stroke="#111" stroke-width="2" />
<line x1="452.2" y1="443" x2="452.2" y2="437" stroke="#111" stroke-width="2" />
<text x="281.5" y="430.82" text-anchor="middle" font-size="12.0" fill="#111" stroke="#111" stroke-width="0.25" font-weight="normal">0</text>
<text x="366.85" y="430.82" text-anchor="middle" font-size="12.0" fill="#111" stroke="#111" stroke-width="0.25" font-weight="normal">50</text>
<text x="452.2" y="430.82" text-anchor="middle" font-size="12.0" fill="#111" stroke="#111" stroke-width="0.25" font-weight="normal">100</text>
<line x1="280.5" y1="615" x2="453.2" y2="615" stroke="#111" stroke-width="2" />
<line x1="281.5" y1="615" x2="281.5" y2="621" stroke="#111" stroke-width="2" />
<line x1="324.175" y1="615" x2="324.175" y2="621" stroke="#111" stroke-width="2" />
<line x1="366.85" y1="615" x2="366.85" y2="621" stroke="#111" stroke-width="2" />
<line x1="409.525" y1="615" x2="409.525" y2="621" stroke="#111" stroke-width="2" />
<line x1="452.2" y1="615" x2="452.2" y2="621" stroke="#111" stroke-width="2" />
<text x="281.5" y="637.92" text-anchor="middle" font-size="12.0" fill="#111" stroke="#111" stroke-width="0.25" font-weight="normal">0</text>
<text x="324.175" y="637.92" text-anchor="middle" font-size="12.0" fill="#111" stroke="#111" stroke-width="0.25" font-weight="normal">5</text>
<text x="366.85" y="637.92" text-anchor="middle" font-size="12.0" fill="#111" stroke="#111" stroke-width="0.25" font-weight="normal">10</text>
<text x="409.525" y="637.92" text-anchor="middle" font-size="12.0" fill="#111" stroke="#111" stroke-width="0.25" font-weight="normal">15</text>
<text x="452.2" y="637.92" text-anchor="middle" font-size="12.0" fill="#111" stroke="#111" stroke-width="0.25" font-weight="normal">20</text>
<text x="370" y="414.32" text-anchor="middle" font-size="12.0" fill="#e8411e" stroke="#e8411e" stroke-width="0.25"><tspan dy="0.00" font-size="12.00">N</tspan><tspan dy="3.12" font-size="7.44">2</tspan><tspan dy="-3.12" font-size="12.00">O (nmol L</tspan><tspan dy="-5.04" font-size="7.44">-1</tspan><tspan dy="5.04" font-size="12.00">)</tspan></text>
<text x="373.5" y="653.92" text-anchor="middle" font-size="12.0" fill="#3b2b9e" stroke="#3b2b9e" stroke-width="0.25"><tspan dy="0.00" font-size="12.00">CH</tspan><tspan dy="3.12" font-size="7.44">4</tspan><tspan dy="-3.12" font-size="12.00"> (µmol L</tspan><tspan dy="-5.04" font-size="7.44">-1</tspan><tspan dy="5.04" font-size="12.00">)</tspan></text>
<line x1="483.4" y1="442.6" x2="656.0" y2="442.6" stroke="#111" stroke-width="2" />
<line x1="484.4" y1="442.6" x2="484.4" y2="436.6" stroke="#111" stroke-width="2" />
<line x1="569.7" y1="442.6" x2="569.7" y2="436.6" stroke="#111" stroke-width="2" />
<line x1="655.0" y1="442.6" x2="655.0" y2="436.6" stroke="#111" stroke-width="2" />
<text x="484.4" y="431.32" text-anchor="middle" font-size="12.0" fill="#111" stroke="#111" stroke-width="0.25" font-weight="normal">0.00</text>
<text x="569.7" y="431.32" text-anchor="middle" font-size="12.0" fill="#111" stroke="#111" stroke-width="0.25" font-weight="normal">0.25</text>
<text x="655.0" y="431.32" text-anchor="middle" font-size="12.0" fill="#111" stroke="#111" stroke-width="0.25" font-weight="normal">0.50</text>
<line x1="483.4" y1="615" x2="656.0" y2="615" stroke="#111" stroke-width="2" />
<line x1="484.4" y1="615" x2="484.4" y2="621" stroke="#111" stroke-width="2" />
<line x1="518.52" y1="615" x2="518.52" y2="621" stroke="#111" stroke-width="2" />
<line x1="552.64" y1="615" x2="552.64" y2="621" stroke="#111" stroke-width="2" />
<line x1="586.76" y1="615" x2="586.76" y2="621" stroke="#111" stroke-width="2" />
<line x1="620.88" y1="615" x2="620.88" y2="621" stroke="#111" stroke-width="2" />
<line x1="655.0" y1="615" x2="655.0" y2="621" stroke="#111" stroke-width="2" />
<text x="484.4" y="637.32" text-anchor="middle" font-size="12.0" fill="#111" stroke="#111" stroke-width="0.25" font-weight="normal">0</text>
<text x="518.52" y="637.32" text-anchor="middle" font-size="12.0" fill="#111" stroke="#111" stroke-width="0.25" font-weight="normal">1</text>
<text x="552.64" y="637.32" text-anchor="middle" font-size="12.0" fill="#111" stroke="#111" stroke-width="0.25" font-weight="normal">2</text>
<text x="586.76" y="637.32" text-anchor="middle" font-size="12.0" fill="#111" stroke="#111" stroke-width="0.25" font-weight="normal">3</text>
<text x="620.88" y="637.32" text-anchor="middle" font-size="12.0" fill="#111" stroke="#111" stroke-width="0.25" font-weight="normal">4</text>
<text x="655.0" y="637.32" text-anchor="middle" font-size="12.0" fill="#111" stroke="#111" stroke-width="0.25" font-weight="normal">5</text>
<text x="521" y="400.32" text-anchor="start" font-size="12.0" fill="#f5821f" stroke="#f5821f" stroke-width="0.25"><tspan dy="0.00" font-size="12.00">Fe part.  (µmol L</tspan><tspan dy="-5.04" font-size="7.44">-1</tspan><tspan dy="5.04" font-size="12.00">)</tspan></text>
<text x="521" y="416.72" text-anchor="start" font-size="12.0" fill="#21961a" stroke="#21961a" stroke-width="0.25"><tspan dy="0.00" font-size="12.00">Fe diss. (µmol L</tspan><tspan dy="-5.04" font-size="7.44">-1</tspan><tspan dy="5.04" font-size="12.00">)</tspan></text>
<text x="505.5" y="652.32" text-anchor="start" font-size="12.0" fill="#e8411e" stroke="#e8411e" stroke-width="0.25"><tspan dy="0.00" font-size="12.00">Mn part. × 10 (µmol L</tspan><tspan dy="-5.04" font-size="7.44">-1</tspan><tspan dy="5.04" font-size="12.00">)</tspan></text>
<text x="505.5" y="669.82" text-anchor="start" font-size="12.0" fill="#3b2b9e" stroke="#3b2b9e" stroke-width="0.25"><tspan dy="0.00" font-size="12.00">Mn diss.</tspan></text>
<text x="583" y="669.82" text-anchor="start" font-size="12.0" fill="#3b2b9e" stroke="#3b2b9e" stroke-width="0.25"><tspan dy="0.00" font-size="12.00">(µmol L</tspan><tspan dy="-5.04" font-size="7.44">-1</tspan><tspan dy="5.04" font-size="12.00">)</tspan></text>
<line x1="672" y1="442.3" x2="672" y2="615.5" stroke="#111" stroke-width="2" />
<line x1="672" y1="443.3" x2="678" y2="443.3" stroke="#111" stroke-width="2" />
<line x1="672" y1="471.83333333333337" x2="678" y2="471.83333333333337" stroke="#111" stroke-width="2" />
<line x1="672" y1="500.3666666666667" x2="678" y2="500.3666666666667" stroke="#111" stroke-width="2" />
<line x1="672" y1="528.9" x2="678" y2="528.9" stroke="#111" stroke-width="2" />
<line x1="672" y1="557.4333333333334" x2="678" y2="557.4333333333334" stroke="#111" stroke-width="2" />
<line x1="672" y1="585.9666666666667" x2="678" y2="585.9666666666667" stroke="#111" stroke-width="2" />
<line x1="672" y1="614.5" x2="678" y2="614.5" stroke="#111" stroke-width="2" />
<line x1="668" y1="457.56666666666666" x2="672" y2="457.56666666666666" stroke="#111" stroke-width="1.6" />
<line x1="668" y1="486.1" x2="672" y2="486.1" stroke="#111" stroke-width="1.6" />
<line x1="668" y1="514.6333333333333" x2="672" y2="514.6333333333333" stroke="#111" stroke-width="1.6" />
<line x1="668" y1="543.1666666666666" x2="672" y2="543.1666666666666" stroke="#111" stroke-width="1.6" />
<line x1="668" y1="571.7" x2="672" y2="571.7" stroke="#111" stroke-width="1.6" />
<line x1="668" y1="600.2333333333333" x2="672" y2="600.2333333333333" stroke="#111" stroke-width="1.6" />
<text x="685.3" y="447.62" text-anchor="start" font-size="12.0" fill="#111" stroke="#111" stroke-width="0.25" font-weight="normal">130</text>
<text x="685.3" y="476.15" text-anchor="start" font-size="12.0" fill="#111" stroke="#111" stroke-width="0.25" font-weight="normal">140</text>
<text x="685.3" y="504.69" text-anchor="start" font-size="12.0" fill="#111" stroke="#111" stroke-width="0.25" font-weight="normal">150</text>
<text x="685.3" y="533.22" text-anchor="start" font-size="12.0" fill="#111" stroke="#111" stroke-width="0.25" font-weight="normal">160</text>
<text x="685.3" y="561.75" text-anchor="start" font-size="12.0" fill="#111" stroke="#111" stroke-width="0.25" font-weight="normal">170</text>
<text x="685.3" y="590.29" text-anchor="start" font-size="12.0" fill="#111" stroke="#111" stroke-width="0.25" font-weight="normal">180</text>
<text x="685.3" y="618.82" text-anchor="start" font-size="12.0" fill="#111" stroke="#111" stroke-width="0.25" font-weight="normal">190</text>
<text x="240.5" y="463.12" text-anchor="middle" font-size="17" fill="#111" stroke="#111" stroke-width="0.25" font-weight="bold">d</text>
<text x="442.5" y="462.94" text-anchor="middle" font-size="16.5" fill="#111" stroke="#111" stroke-width="0.25" font-weight="bold">e</text>
<text x="645.2" y="463.62" text-anchor="middle" font-size="17" fill="#111" stroke="#111" stroke-width="0.25" font-weight="bold">f</text>
<polyline points="81.2,457.0 80.5,464.0 80.8,471.0 81.0,474.0 91.0,477.5 91.0,480.5 85.0,486.0 84.0,491.0 84.5,497.0 87.0,501.0 100.0,505.0 113.5,508.5 85.5,511.0 118.0,516.5 118.5,519.5 99.5,522.5 140.0,525.5 113.5,528.5 90.5,533.0 90.5,537.0 90.5,540.0 81.5,546.0 88.5,552.0 86.0,562.4 82.0,568.0 90.0,571.0 95.0,581.0 91.0,585.0 81.0,589.0 85.0,593.6 85.6,599.6" fill="none" stroke="#3b2b9e" stroke-width="1.4" stroke-linejoin="round"/>
<polygon points="81.2,453.0 85.2,457.0 81.2,461.0 77.2,457.0" fill="#3b2b9e"/>
<polygon points="80.5,460.0 84.5,464.0 80.5,468.0 76.5,464.0" fill="#3b2b9e"/>
<polygon points="80.8,467.0 84.8,471.0 80.8,475.0 76.8,471.0" fill="#3b2b9e"/>
<polygon points="81.0,470.0 85.0,474.0 81.0,478.0 77.0,474.0" fill="#3b2b9e"/>
<polygon points="91.0,473.5 95.0,477.5 91.0,481.5 87.0,477.5" fill="#3b2b9e"/>
<polygon points="91.0,476.5 95.0,480.5 91.0,484.5 87.0,480.5" fill="#3b2b9e"/>
<polygon points="85.0,482.0 89.0,486.0 85.0,490.0 81.0,486.0" fill="#3b2b9e"/>
<polygon points="84.0,487.0 88.0,491.0 84.0,495.0 80.0,491.0" fill="#3b2b9e"/>
<polygon points="84.5,493.0 88.5,497.0 84.5,501.0 80.5,497.0" fill="#3b2b9e"/>
<polygon points="87.0,497.0 91.0,501.0 87.0,505.0 83.0,501.0" fill="#3b2b9e"/>
<polygon points="100.0,501.0 104.0,505.0 100.0,509.0 96.0,505.0" fill="#3b2b9e"/>
<polygon points="113.5,504.5 117.5,508.5 113.5,512.5 109.5,508.5" fill="#3b2b9e"/>
<polygon points="85.5,507.0 89.5,511.0 85.5,515.0 81.5,511.0" fill="#3b2b9e"/>
<polygon points="118.0,512.5 122.0,516.5 118.0,520.5 114.0,516.5" fill="#3b2b9e"/>
<polygon points="118.5,515.5 122.5,519.5 118.5,523.5 114.5,519.5" fill="#3b2b9e"/>
<polygon points="99.5,518.5 103.5,522.5 99.5,526.5 95.5,522.5" fill="#3b2b9e"/>
<polygon points="140.0,521.5 144.0,525.5 140.0,529.5 136.0,525.5" fill="#3b2b9e"/>
<polygon points="113.5,524.5 117.5,528.5 113.5,532.5 109.5,528.5" fill="#3b2b9e"/>
<polygon points="90.5,529.0 94.5,533.0 90.5,537.0 86.5,533.0" fill="#3b2b9e"/>
<polygon points="90.5,533.0 94.5,537.0 90.5,541.0 86.5,537.0" fill="#3b2b9e"/>
<polygon points="90.5,536.0 94.5,540.0 90.5,544.0 86.5,540.0" fill="#3b2b9e"/>
<polygon points="81.5,542.0 85.5,546.0 81.5,550.0 77.5,546.0" fill="#3b2b9e"/>
<polygon points="88.5,548.0 92.5,552.0 88.5,556.0 84.5,552.0" fill="#3b2b9e"/>
<polygon points="86.0,558.4 90.0,562.4 86.0,566.4 82.0,562.4" fill="#3b2b9e"/>
<polygon points="82.0,564.0 86.0,568.0 82.0,572.0 78.0,568.0" fill="#3b2b9e"/>
<polygon points="90.0,567.0 94.0,571.0 90.0,575.0 86.0,571.0" fill="#3b2b9e"/>
<polygon points="95.0,577.0 99.0,581.0 95.0,585.0 91.0,581.0" fill="#3b2b9e"/>
<polygon points="91.0,581.0 95.0,585.0 91.0,589.0 87.0,585.0" fill="#3b2b9e"/>
<polygon points="81.0,585.0 85.0,589.0 81.0,593.0 77.0,589.0" fill="#3b2b9e"/>
<polygon points="85.0,589.6 89.0,593.6 85.0,597.6 81.0,593.6" fill="#3b2b9e"/>
<polygon points="85.6,595.6 89.6,599.6 85.6,603.6 81.6,599.6" fill="#3b2b9e"/>
<polyline points="87.0,457.0 86.0,463.5 86.5,470.5 86.5,474.0 86.0,477.0 86.0,485.5 86.5,491.0 86.5,497.0 87.0,499.5 90.0,502.0 95.0,505.0 91.0,509.0 92.0,513.0 91.0,517.0 92.0,521.0 92.0,525.0 97.0,531.0 103.5,535.0 103.5,539.0 104.0,543.0 114.0,547.5 121.0,551.5 131.5,559.5 142.0,565.0 144.0,570.0 154.0,576.0 171.0,581.0 175.0,583.6 196.0,589.0 201.0,593.6 235.0,599.6" fill="none" stroke="#21961a" stroke-width="1.3" stroke-linejoin="round"/>
<polygon points="87.0,453.9 83.5,460.1 90.5,460.1" fill="#21961a" stroke="#21961a" stroke-width="0.6" stroke-linejoin="round"/>
<polygon points="86.0,460.4 82.5,466.6 89.5,466.6" fill="#21961a" stroke="#21961a" stroke-width="0.6" stroke-linejoin="round"/>
<polygon points="86.5,467.4 83.0,473.6 90.0,473.6" fill="#21961a" stroke="#21961a" stroke-width="0.6" stroke-linejoin="round"/>
<polygon points="86.5,470.9 83.0,477.1 90.0,477.1" fill="#21961a" stroke="#21961a" stroke-width="0.6" stroke-linejoin="round"/>
<polygon points="86.0,473.9 82.5,480.1 89.5,480.1" fill="#21961a" stroke="#21961a" stroke-width="0.6" stroke-linejoin="round"/>
<polygon points="86.0,482.4 82.5,488.6 89.5,488.6" fill="#21961a" stroke="#21961a" stroke-width="0.6" stroke-linejoin="round"/>
<polygon points="86.5,487.9 83.0,494.1 90.0,494.1" fill="#21961a" stroke="#21961a" stroke-width="0.6" stroke-linejoin="round"/>
<polygon points="86.5,493.9 83.0,500.1 90.0,500.1" fill="#21961a" stroke="#21961a" stroke-width="0.6" stroke-linejoin="round"/>
<polygon points="87.0,496.4 83.5,502.6 90.5,502.6" fill="#21961a" stroke="#21961a" stroke-width="0.6" stroke-linejoin="round"/>
<polygon points="90.0,498.9 86.5,505.1 93.5,505.1" fill="#21961a" stroke="#21961a" stroke-width="0.6" stroke-linejoin="round"/>
<polygon points="95.0,501.9 91.5,508.1 98.5,508.1" fill="#21961a" stroke="#21961a" stroke-width="0.6" stroke-linejoin="round"/>
<polygon points="91.0,505.9 87.5,512.1 94.5,512.1" fill="#21961a" stroke="#21961a" stroke-width="0.6" stroke-linejoin="round"/>
<polygon points="92.0,509.9 88.5,516.1 95.5,516.1" fill="#21961a" stroke="#21961a" stroke-width="0.6" stroke-linejoin="round"/>
<polygon points="91.0,513.9 87.5,520.1 94.5,520.1" fill="#21961a" stroke="#21961a" stroke-width="0.6" stroke-linejoin="round"/>
<polygon points="92.0,517.9 88.5,524.1 95.5,524.1" fill="#21961a" stroke="#21961a" stroke-width="0.6" stroke-linejoin="round"/>
<polygon points="92.0,521.9 88.5,528.1 95.5,528.1" fill="#21961a" stroke="#21961a" stroke-width="0.6" stroke-linejoin="round"/>
<polygon points="97.0,527.9 93.5,534.1 100.5,534.1" fill="#21961a" stroke="#21961a" stroke-width="0.6" stroke-linejoin="round"/>
<polygon points="103.5,531.9 100.0,538.1 107.0,538.1" fill="#21961a" stroke="#21961a" stroke-width="0.6" stroke-linejoin="round"/>
<polygon points="103.5,535.9 100.0,542.1 107.0,542.1" fill="#21961a" stroke="#21961a" stroke-width="0.6" stroke-linejoin="round"/>
<polygon points="104.0,539.9 100.5,546.1 107.5,546.1" fill="#21961a" stroke="#21961a" stroke-width="0.6" stroke-linejoin="round"/>
<polygon points="114.0,544.4 110.5,550.6 117.5,550.6" fill="#21961a" stroke="#21961a" stroke-width="0.6" stroke-linejoin="round"/>
<polygon points="121.0,548.4 117.5,554.6 124.5,554.6" fill="#21961a" stroke="#21961a" stroke-width="0.6" stroke-linejoin="round"/>
<polygon points="131.5,556.4 128.0,562.6 135.0,562.6" fill="#21961a" stroke="#21961a" stroke-width="0.6" stroke-linejoin="round"/>
<polygon points="142.0,561.9 138.5,568.1 145.5,568.1" fill="#21961a" stroke="#21961a" stroke-width="0.6" stroke-linejoin="round"/>
<polygon points="144.0,566.9 140.5,573.1 147.5,573.1" fill="#21961a" stroke="#21961a" stroke-width="0.6" stroke-linejoin="round"/>
<polygon points="154.0,572.9 150.5,579.1 157.5,579.1" fill="#21961a" stroke="#21961a" stroke-width="0.6" stroke-linejoin="round"/>
<polygon points="171.0,577.9 167.5,584.1 174.5,584.1" fill="#21961a" stroke="#21961a" stroke-width="0.6" stroke-linejoin="round"/>
<polygon points="175.0,580.5 171.5,586.7 178.5,586.7" fill="#21961a" stroke="#21961a" stroke-width="0.6" stroke-linejoin="round"/>
<polygon points="196.0,585.9 192.5,592.1 199.5,592.1" fill="#21961a" stroke="#21961a" stroke-width="0.6" stroke-linejoin="round"/>
<polygon points="201.0,590.5 197.5,596.7 204.5,596.7" fill="#21961a" stroke="#21961a" stroke-width="0.6" stroke-linejoin="round"/>
<polygon points="235.0,596.5 231.5,602.7 238.5,602.7" fill="#21961a" stroke="#21961a" stroke-width="0.6" stroke-linejoin="round"/>
<polygon points="215.0,461.2 211.5,455.0 218.5,455.0" fill="#e8411e" stroke="#e8411e" stroke-width="0.6" stroke-linejoin="round"/>
<polygon points="200.0,468.4 196.5,462.2 203.5,462.2" fill="#e8411e" stroke="#e8411e" stroke-width="0.6" stroke-linejoin="round"/>
<polygon points="193.6,475.2 190.1,469.0 197.1,469.0" fill="#e8411e" stroke="#e8411e" stroke-width="0.6" stroke-linejoin="round"/>
<polygon points="190.4,478.4 186.9,472.2 193.9,472.2" fill="#e8411e" stroke="#e8411e" stroke-width="0.6" stroke-linejoin="round"/>
<polygon points="188.6,480.8 185.1,474.6 192.1,474.6" fill="#e8411e" stroke="#e8411e" stroke-width="0.6" stroke-linejoin="round"/>
<polygon points="196.6,489.8 193.1,483.6 200.1,483.6" fill="#e8411e" stroke="#e8411e" stroke-width="0.6" stroke-linejoin="round"/>
<polygon points="183.6,495.2 180.1,489.0 187.1,489.0" fill="#e8411e" stroke="#e8411e" stroke-width="0.6" stroke-linejoin="round"/>
<polygon points="173.0,501.2 169.5,495.0 176.5,495.0" fill="#e8411e" stroke="#e8411e" stroke-width="0.6" stroke-linejoin="round"/>
<polygon points="168.0,503.8 164.5,497.6 171.5,497.6" fill="#e8411e" stroke="#e8411e" stroke-width="0.6" stroke-linejoin="round"/>
<polygon points="167.6,506.8 164.1,500.6 171.1,500.6" fill="#e8411e" stroke="#e8411e" stroke-width="0.6" stroke-linejoin="round"/>
<polygon points="190.0,509.8 186.5,503.6 193.5,503.6" fill="#e8411e" stroke="#e8411e" stroke-width="0.6" stroke-linejoin="round"/>
<polygon points="215.0,512.8 211.5,506.6 218.5,506.6" fill="#e8411e" stroke="#e8411e" stroke-width="0.6" stroke-linejoin="round"/>
<polygon points="199.6,515.4 196.1,509.2 203.1,509.2" fill="#e8411e" stroke="#e8411e" stroke-width="0.6" stroke-linejoin="round"/>
<polygon points="193.6,517.8 190.1,511.6 197.1,511.6" fill="#e8411e" stroke="#e8411e" stroke-width="0.6" stroke-linejoin="round"/>
<polygon points="190.0,521.2 186.5,515.0 193.5,515.0" fill="#e8411e" stroke="#e8411e" stroke-width="0.6" stroke-linejoin="round"/>
<polygon points="188.0,523.8 184.5,517.6 191.5,517.6" fill="#e8411e" stroke="#e8411e" stroke-width="0.6" stroke-linejoin="round"/>
<polygon points="222.0,526.8 218.5,520.6 225.5,520.6" fill="#e8411e" stroke="#e8411e" stroke-width="0.6" stroke-linejoin="round"/>
<polygon points="196.0,529.8 192.5,523.6 199.5,523.6" fill="#e8411e" stroke="#e8411e" stroke-width="0.6" stroke-linejoin="round"/>
<polygon points="183.6,532.8 180.1,526.6 187.1,526.6" fill="#e8411e" stroke="#e8411e" stroke-width="0.6" stroke-linejoin="round"/>
<polygon points="173.0,535.2 169.5,529.0 176.5,529.0" fill="#e8411e" stroke="#e8411e" stroke-width="0.6" stroke-linejoin="round"/>
<polygon points="168.0,538.8 164.5,532.6 171.5,532.6" fill="#e8411e" stroke="#e8411e" stroke-width="0.6" stroke-linejoin="round"/>
<polygon points="167.6,541.2 164.1,535.0 171.1,535.0" fill="#e8411e" stroke="#e8411e" stroke-width="0.6" stroke-linejoin="round"/>
<polygon points="190.0,544.2 186.5,538.0 193.5,538.0" fill="#e8411e" stroke="#e8411e" stroke-width="0.6" stroke-linejoin="round"/>
<polygon points="183.0,546.8 179.5,540.6 186.5,540.6" fill="#e8411e" stroke="#e8411e" stroke-width="0.6" stroke-linejoin="round"/>
<polygon points="164.4,548.8 160.9,542.6 167.9,542.6" fill="#e8411e" stroke="#e8411e" stroke-width="0.6" stroke-linejoin="round"/>
<polygon points="160.0,552.8 156.5,546.6 163.5,546.6" fill="#e8411e" stroke="#e8411e" stroke-width="0.6" stroke-linejoin="round"/>
<polygon points="162.0,555.8 158.5,549.6 165.5,549.6" fill="#e8411e" stroke="#e8411e" stroke-width="0.6" stroke-linejoin="round"/>
<polygon points="157.0,558.4 153.5,552.2 160.5,552.2" fill="#e8411e" stroke="#e8411e" stroke-width="0.6" stroke-linejoin="round"/>
<polygon points="160.0,563.8 156.5,557.6 163.5,557.6" fill="#e8411e" stroke="#e8411e" stroke-width="0.6" stroke-linejoin="round"/>
<polygon points="151.0,566.4 147.5,560.2 154.5,560.2" fill="#e8411e" stroke="#e8411e" stroke-width="0.6" stroke-linejoin="round"/>
<polygon points="149.0,568.8 145.5,562.6 152.5,562.6" fill="#e8411e" stroke="#e8411e" stroke-width="0.6" stroke-linejoin="round"/>
<polygon points="145.0,572.4 141.5,566.2 148.5,566.2" fill="#e8411e" stroke="#e8411e" stroke-width="0.6" stroke-linejoin="round"/>
<polygon points="156.0,574.8 152.5,568.6 159.5,568.6" fill="#e8411e" stroke="#e8411e" stroke-width="0.6" stroke-linejoin="round"/>
<polygon points="157.0,578.8 153.5,572.6 160.5,572.6" fill="#e8411e" stroke="#e8411e" stroke-width="0.6" stroke-linejoin="round"/>
<polygon points="136.0,585.4 132.5,579.2 139.5,579.2" fill="#e8411e" stroke="#e8411e" stroke-width="0.6" stroke-linejoin="round"/>
<polygon points="145.0,589.4 141.5,583.2 148.5,583.2" fill="#e8411e" stroke="#e8411e" stroke-width="0.6" stroke-linejoin="round"/>
<polygon points="134.0,593.4 130.5,587.2 137.5,587.2" fill="#e8411e" stroke="#e8411e" stroke-width="0.6" stroke-linejoin="round"/>
<polygon points="144.0,598.2 140.5,592.0 147.5,592.0" fill="#e8411e" stroke="#e8411e" stroke-width="0.6" stroke-linejoin="round"/>
<polygon points="124.0,603.8 120.5,597.6 127.5,597.6" fill="#e8411e" stroke="#e8411e" stroke-width="0.6" stroke-linejoin="round"/>
<polyline points="281.6,457.0 281.6,464.4 281.6,471.0 281.6,477.0 281.6,480.0 281.6,485.6 281.6,491.0 281.6,496.4 281.6,499.6 281.6,502.0 282.0,505.0 282.4,508.6 283.0,511.0 283.6,513.6 284.0,516.4 284.2,519.6 285.0,522.0 286.0,525.0 292.0,528.0 296.0,531.0 296.0,533.5 291.6,537.0 301.6,539.6 300.4,545.6 310.4,548.4 318.4,551.0 325.6,554.0 327.0,557.0 331.0,562.0 342.0,566.0 349.0,568.4 361.0,571.6 381.0,577.0 389.6,581.6 389.6,584.4 385.0,589.6 411.0,594.0" fill="none" stroke="#3b2b9e" stroke-width="1.3" stroke-linejoin="round"/>
<rect x="278.8" y="454.2" width="5.6" height="5.6" fill="#3b2b9e"/>
<rect x="278.8" y="461.6" width="5.6" height="5.6" fill="#3b2b9e"/>
<rect x="278.8" y="468.2" width="5.6" height="5.6" fill="#3b2b9e"/>
<rect x="278.8" y="474.2" width="5.6" height="5.6" fill="#3b2b9e"/>
<rect x="278.8" y="477.2" width="5.6" height="5.6" fill="#3b2b9e"/>
<rect x="278.8" y="482.8" width="5.6" height="5.6" fill="#3b2b9e"/>
<rect x="278.8" y="488.2" width="5.6" height="5.6" fill="#3b2b9e"/>
<rect x="278.8" y="493.6" width="5.6" height="5.6" fill="#3b2b9e"/>
<rect x="278.8" y="496.8" width="5.6" height="5.6" fill="#3b2b9e"/>
<rect x="278.8" y="499.2" width="5.6" height="5.6" fill="#3b2b9e"/>
<rect x="279.2" y="502.2" width="5.6" height="5.6" fill="#3b2b9e"/>
<rect x="279.6" y="505.8" width="5.6" height="5.6" fill="#3b2b9e"/>
<rect x="280.2" y="508.2" width="5.6" height="5.6" fill="#3b2b9e"/>
<rect x="280.8" y="510.8" width="5.6" height="5.6" fill="#3b2b9e"/>
<rect x="281.2" y="513.6" width="5.6" height="5.6" fill="#3b2b9e"/>
<rect x="281.4" y="516.8" width="5.6" height="5.6" fill="#3b2b9e"/>
<rect x="282.2" y="519.2" width="5.6" height="5.6" fill="#3b2b9e"/>
<rect x="283.2" y="522.2" width="5.6" height="5.6" fill="#3b2b9e"/>
<rect x="289.2" y="525.2" width="5.6" height="5.6" fill="#3b2b9e"/>
<rect x="293.2" y="528.2" width="5.6" height="5.6" fill="#3b2b9e"/>
<rect x="293.2" y="530.7" width="5.6" height="5.6" fill="#3b2b9e"/>
<rect x="288.8" y="534.2" width="5.6" height="5.6" fill="#3b2b9e"/>
<rect x="298.8" y="536.8" width="5.6" height="5.6" fill="#3b2b9e"/>
<rect x="297.6" y="542.8" width="5.6" height="5.6" fill="#3b2b9e"/>
<rect x="307.6" y="545.6" width="5.6" height="5.6" fill="#3b2b9e"/>
<rect x="315.6" y="548.2" width="5.6" height="5.6" fill="#3b2b9e"/>
<rect x="322.8" y="551.2" width="5.6" height="5.6" fill="#3b2b9e"/>
<rect x="324.2" y="554.2" width="5.6" height="5.6" fill="#3b2b9e"/>
<rect x="328.2" y="559.2" width="5.6" height="5.6" fill="#3b2b9e"/>
<rect x="339.2" y="563.2" width="5.6" height="5.6" fill="#3b2b9e"/>
<rect x="346.2" y="565.6" width="5.6" height="5.6" fill="#3b2b9e"/>
<rect x="358.2" y="568.8" width="5.6" height="5.6" fill="#3b2b9e"/>
<rect x="378.2" y="574.2" width="5.6" height="5.6" fill="#3b2b9e"/>
<rect x="386.8" y="578.8" width="5.6" height="5.6" fill="#3b2b9e"/>
<rect x="386.8" y="581.6" width="5.6" height="5.6" fill="#3b2b9e"/>
<rect x="382.2" y="586.8" width="5.6" height="5.6" fill="#3b2b9e"/>
<rect x="408.2" y="591.2" width="5.6" height="5.6" fill="#3b2b9e"/>
<polyline points="312.4,457.0 309.0,464.4 312.0,471.0 309.0,477.0 312.0,480.0 310.0,485.6 317.0,491.0 304.0,496.4 317.6,499.6 308.0,502.0 306.4,505.0 399.0,508.6 339.0,511.0 351.0,513.6 315.6,516.4 355.6,519.6 347.6,522.0 346.4,525.0 321.0,528.0 316.0,531.0 343.6,534.0 329.6,536.5 307.8,539.2 386.0,545.0 397.6,548.0 361.0,551.0 373.0,554.0 322.4,556.4 324.0,559.6 346.0,562.4 322.4,565.0 319.6,567.6 342.4,571.0 298.4,576.4 298.0,581.6 284.4,585.0 297.6,589.6 281.6,594.0" fill="none" stroke="#e8411e" stroke-width="1.3" stroke-linejoin="round"/>
<circle cx="312.4" cy="457.0" r="3.3" fill="#e8411e"/>
<circle cx="309.0" cy="464.4" r="3.3" fill="#e8411e"/>
<circle cx="312.0" cy="471.0" r="3.3" fill="#e8411e"/>
<circle cx="309.0" cy="477.0" r="3.3" fill="#e8411e"/>
<circle cx="312.0" cy="480.0" r="3.3" fill="#e8411e"/>
<circle cx="310.0" cy="485.6" r="3.3" fill="#e8411e"/>
<circle cx="317.0" cy="491.0" r="3.3" fill="#e8411e"/>
<circle cx="304.0" cy="496.4" r="3.3" fill="#e8411e"/>
<circle cx="317.6" cy="499.6" r="3.3" fill="#e8411e"/>
<circle cx="308.0" cy="502.0" r="3.3" fill="#e8411e"/>
<circle cx="306.4" cy="505.0" r="3.3" fill="#e8411e"/>
<circle cx="399.0" cy="508.6" r="3.3" fill="#e8411e"/>
<circle cx="339.0" cy="511.0" r="3.3" fill="#e8411e"/>
<circle cx="351.0" cy="513.6" r="3.3" fill="#e8411e"/>
<circle cx="315.6" cy="516.4" r="3.3" fill="#e8411e"/>
<circle cx="355.6" cy="519.6" r="3.3" fill="#e8411e"/>
<circle cx="347.6" cy="522.0" r="3.3" fill="#e8411e"/>
<circle cx="346.4" cy="525.0" r="3.3" fill="#e8411e"/>
<circle cx="321.0" cy="528.0" r="3.3" fill="#e8411e"/>
<circle cx="316.0" cy="531.0" r="3.3" fill="#e8411e"/>
<circle cx="343.6" cy="534.0" r="3.3" fill="#e8411e"/>
<circle cx="329.6" cy="536.5" r="3.3" fill="#e8411e"/>
<circle cx="307.8" cy="539.2" r="3.3" fill="#e8411e"/>
<circle cx="386.0" cy="545.0" r="3.3" fill="#e8411e"/>
<circle cx="397.6" cy="548.0" r="3.3" fill="#e8411e"/>
<circle cx="361.0" cy="551.0" r="3.3" fill="#e8411e"/>
<circle cx="373.0" cy="554.0" r="3.3" fill="#e8411e"/>
<circle cx="322.4" cy="556.4" r="3.3" fill="#e8411e"/>
<circle cx="324.0" cy="559.6" r="3.3" fill="#e8411e"/>
<circle cx="346.0" cy="562.4" r="3.3" fill="#e8411e"/>
<circle cx="322.4" cy="565.0" r="3.3" fill="#e8411e"/>
<circle cx="319.6" cy="567.6" r="3.3" fill="#e8411e"/>
<circle cx="342.4" cy="571.0" r="3.3" fill="#e8411e"/>
<circle cx="298.4" cy="576.4" r="3.3" fill="#e8411e"/>
<circle cx="298.0" cy="581.6" r="3.3" fill="#e8411e"/>
<circle cx="284.4" cy="585.0" r="3.3" fill="#e8411e"/>
<circle cx="297.6" cy="589.6" r="3.3" fill="#e8411e"/>
<circle cx="281.6" cy="594.0" r="3.3" fill="#e8411e"/>
<polyline points="489.6,457.0 489.6,464.0 489.6,474.0 489.6,480.0 489.6,485.6 489.6,491.6 489.6,497.0 491.0,502.3 502.6,511.0 487.0,514.0 488.5,517.0 486.5,520.0 488.0,523.0 487.0,526.0 489.0,529.0 487.0,532.0 488.5,535.0 487.5,538.0 489.0,541.0 487.5,544.0 489.0,547.0 488.0,550.0 489.5,553.0 488.0,556.0 489.5,559.0 488.5,562.0 490.0,565.0 489.0,568.0 490.0,571.0 508.0,581.6 493.0,589.0 497.0,594.0 499.0,599.6" fill="none" stroke="#21961a" stroke-width="1.3" stroke-linejoin="round"/>
<polygon points="489.6,454.1 486.4,459.9 492.9,459.9" fill="#21961a" stroke="#21961a" stroke-width="0.6" stroke-linejoin="round"/>
<polygon points="489.6,461.1 486.4,466.9 492.9,466.9" fill="#21961a" stroke="#21961a" stroke-width="0.6" stroke-linejoin="round"/>
<polygon points="489.6,471.1 486.4,476.9 492.9,476.9" fill="#21961a" stroke="#21961a" stroke-width="0.6" stroke-linejoin="round"/>
<polygon points="489.6,477.1 486.4,482.9 492.9,482.9" fill="#21961a" stroke="#21961a" stroke-width="0.6" stroke-linejoin="round"/>
<polygon points="489.6,482.7 486.4,488.6 492.9,488.6" fill="#21961a" stroke="#21961a" stroke-width="0.6" stroke-linejoin="round"/>
<polygon points="489.6,488.7 486.4,494.6 492.9,494.6" fill="#21961a" stroke="#21961a" stroke-width="0.6" stroke-linejoin="round"/>
<polygon points="489.6,494.1 486.4,499.9 492.9,499.9" fill="#21961a" stroke="#21961a" stroke-width="0.6" stroke-linejoin="round"/>
<polygon points="491.0,499.4 487.8,505.2 494.2,505.2" fill="#21961a" stroke="#21961a" stroke-width="0.6" stroke-linejoin="round"/>
<polygon points="502.6,508.1 499.4,514.0 505.9,514.0" fill="#21961a" stroke="#21961a" stroke-width="0.6" stroke-linejoin="round"/>
<polygon points="487.0,511.1 483.8,517.0 490.2,517.0" fill="#21961a" stroke="#21961a" stroke-width="0.6" stroke-linejoin="round"/>
<polygon points="488.5,514.0 485.2,520.0 491.8,520.0" fill="#21961a" stroke="#21961a" stroke-width="0.6" stroke-linejoin="round"/>
<polygon points="486.5,517.0 483.2,523.0 489.8,523.0" fill="#21961a" stroke="#21961a" stroke-width="0.6" stroke-linejoin="round"/>
<polygon points="488.0,520.0 484.8,526.0 491.2,526.0" fill="#21961a" stroke="#21961a" stroke-width="0.6" stroke-linejoin="round"/>
<polygon points="487.0,523.0 483.8,529.0 490.2,529.0" fill="#21961a" stroke="#21961a" stroke-width="0.6" stroke-linejoin="round"/>
<polygon points="489.0,526.0 485.8,532.0 492.2,532.0" fill="#21961a" stroke="#21961a" stroke-width="0.6" stroke-linejoin="round"/>
<polygon points="487.0,529.0 483.8,535.0 490.2,535.0" fill="#21961a" stroke="#21961a" stroke-width="0.6" stroke-linejoin="round"/>
<polygon points="488.5,532.0 485.2,538.0 491.8,538.0" fill="#21961a" stroke="#21961a" stroke-width="0.6" stroke-linejoin="round"/>
<polygon points="487.5,535.0 484.2,541.0 490.8,541.0" fill="#21961a" stroke="#21961a" stroke-width="0.6" stroke-linejoin="round"/>
<polygon points="489.0,538.0 485.8,544.0 492.2,544.0" fill="#21961a" stroke="#21961a" stroke-width="0.6" stroke-linejoin="round"/>
<polygon points="487.5,541.0 484.2,547.0 490.8,547.0" fill="#21961a" stroke="#21961a" stroke-width="0.6" stroke-linejoin="round"/>
<polygon points="489.0,544.0 485.8,550.0 492.2,550.0" fill="#21961a" stroke="#21961a" stroke-width="0.6" stroke-linejoin="round"/>
<polygon points="488.0,547.0 484.8,553.0 491.2,553.0" fill="#21961a" stroke="#21961a" stroke-width="0.6" stroke-linejoin="round"/>
<polygon points="489.5,550.0 486.2,556.0 492.8,556.0" fill="#21961a" stroke="#21961a" stroke-width="0.6" stroke-linejoin="round"/>
<polygon points="488.0,553.0 484.8,559.0 491.2,559.0" fill="#21961a" stroke="#21961a" stroke-width="0.6" stroke-linejoin="round"/>
<polygon points="489.5,556.0 486.2,562.0 492.8,562.0" fill="#21961a" stroke="#21961a" stroke-width="0.6" stroke-linejoin="round"/>
<polygon points="488.5,559.0 485.2,565.0 491.8,565.0" fill="#21961a" stroke="#21961a" stroke-width="0.6" stroke-linejoin="round"/>
<polygon points="490.0,562.0 486.8,568.0 493.2,568.0" fill="#21961a" stroke="#21961a" stroke-width="0.6" stroke-linejoin="round"/>
<polygon points="489.0,565.0 485.8,571.0 492.2,571.0" fill="#21961a" stroke="#21961a" stroke-width="0.6" stroke-linejoin="round"/>
<polygon points="490.0,568.0 486.8,574.0 493.2,574.0" fill="#21961a" stroke="#21961a" stroke-width="0.6" stroke-linejoin="round"/>
<polygon points="508.0,578.6 504.8,584.6 511.2,584.6" fill="#21961a" stroke="#21961a" stroke-width="0.6" stroke-linejoin="round"/>
<polygon points="493.0,586.0 489.8,592.0 496.2,592.0" fill="#21961a" stroke="#21961a" stroke-width="0.6" stroke-linejoin="round"/>
<polygon points="497.0,591.0 493.8,597.0 500.2,597.0" fill="#21961a" stroke="#21961a" stroke-width="0.6" stroke-linejoin="round"/>
<polygon points="499.0,596.6 495.8,602.6 502.2,602.6" fill="#21961a" stroke="#21961a" stroke-width="0.6" stroke-linejoin="round"/>
<polyline points="509.0,457.5 506.0,464.5 509.0,474.5 506.4,480.5 504.0,486.1 509.6,492.1 507.0,497.5 513.0,504.1 509.0,508.9 511.0,513.5 521.0,517.5 522.4,520.1 517.0,522.9 515.0,526.1 519.0,534.1 521.0,538.5 523.6,548.1 531.0,554.1 533.0,556.9 529.0,562.5 545.0,567.5 546.0,572.1 547.6,577.5 573.0,582.1 574.4,590.1 617.0,594.5 629.0,600.5" fill="none" stroke="#f5821f" stroke-width="1.2" stroke-linejoin="round"/>
<polygon points="509.0,460.4 505.8,454.6 512.2,454.6" fill="#f5821f" stroke="#f5821f" stroke-width="0.6" stroke-linejoin="round"/>
<polygon points="506.0,467.4 502.8,461.6 509.2,461.6" fill="#f5821f" stroke="#f5821f" stroke-width="0.6" stroke-linejoin="round"/>
<polygon points="509.0,477.4 505.8,471.6 512.2,471.6" fill="#f5821f" stroke="#f5821f" stroke-width="0.6" stroke-linejoin="round"/>
<polygon points="506.4,483.4 503.1,477.6 509.6,477.6" fill="#f5821f" stroke="#f5821f" stroke-width="0.6" stroke-linejoin="round"/>
<polygon points="504.0,489.1 500.8,483.2 507.2,483.2" fill="#f5821f" stroke="#f5821f" stroke-width="0.6" stroke-linejoin="round"/>
<polygon points="509.6,495.1 506.4,489.2 512.9,489.2" fill="#f5821f" stroke="#f5821f" stroke-width="0.6" stroke-linejoin="round"/>
<polygon points="507.0,500.4 503.8,494.6 510.2,494.6" fill="#f5821f" stroke="#f5821f" stroke-width="0.6" stroke-linejoin="round"/>
<polygon points="513.0,507.1 509.8,501.2 516.2,501.2" fill="#f5821f" stroke="#f5821f" stroke-width="0.6" stroke-linejoin="round"/>
<polygon points="509.0,511.8 505.8,505.9 512.2,505.9" fill="#f5821f" stroke="#f5821f" stroke-width="0.6" stroke-linejoin="round"/>
<polygon points="511.0,516.5 507.8,510.6 514.2,510.6" fill="#f5821f" stroke="#f5821f" stroke-width="0.6" stroke-linejoin="round"/>
<polygon points="521.0,520.5 517.8,514.5 524.2,514.5" fill="#f5821f" stroke="#f5821f" stroke-width="0.6" stroke-linejoin="round"/>
<polygon points="522.4,523.1 519.1,517.1 525.6,517.1" fill="#f5821f" stroke="#f5821f" stroke-width="0.6" stroke-linejoin="round"/>
<polygon points="517.0,525.9 513.8,519.9 520.2,519.9" fill="#f5821f" stroke="#f5821f" stroke-width="0.6" stroke-linejoin="round"/>
<polygon points="515.0,529.1 511.8,523.1 518.2,523.1" fill="#f5821f" stroke="#f5821f" stroke-width="0.6" stroke-linejoin="round"/>
<polygon points="519.0,537.1 515.8,531.1 522.2,531.1" fill="#f5821f" stroke="#f5821f" stroke-width="0.6" stroke-linejoin="round"/>
<polygon points="521.0,541.5 517.8,535.5 524.2,535.5" fill="#f5821f" stroke="#f5821f" stroke-width="0.6" stroke-linejoin="round"/>
<polygon points="523.6,551.1 520.4,545.1 526.9,545.1" fill="#f5821f" stroke="#f5821f" stroke-width="0.6" stroke-linejoin="round"/>
<polygon points="531.0,557.1 527.8,551.1 534.2,551.1" fill="#f5821f" stroke="#f5821f" stroke-width="0.6" stroke-linejoin="round"/>
<polygon points="533.0,559.9 529.8,553.9 536.2,553.9" fill="#f5821f" stroke="#f5821f" stroke-width="0.6" stroke-linejoin="round"/>
<polygon points="529.0,565.5 525.8,559.5 532.2,559.5" fill="#f5821f" stroke="#f5821f" stroke-width="0.6" stroke-linejoin="round"/>
<polygon points="545.0,570.5 541.8,564.5 548.2,564.5" fill="#f5821f" stroke="#f5821f" stroke-width="0.6" stroke-linejoin="round"/>
<polygon points="546.0,575.1 542.8,569.1 549.2,569.1" fill="#f5821f" stroke="#f5821f" stroke-width="0.6" stroke-linejoin="round"/>
<polygon points="547.6,580.5 544.4,574.5 550.9,574.5" fill="#f5821f" stroke="#f5821f" stroke-width="0.6" stroke-linejoin="round"/>
<polygon points="573.0,585.1 569.8,579.1 576.2,579.1" fill="#f5821f" stroke="#f5821f" stroke-width="0.6" stroke-linejoin="round"/>
<polygon points="574.4,593.1 571.1,587.1 577.6,587.1" fill="#f5821f" stroke="#f5821f" stroke-width="0.6" stroke-linejoin="round"/>
<polygon points="617.0,597.5 613.8,591.5 620.2,591.5" fill="#f5821f" stroke="#f5821f" stroke-width="0.6" stroke-linejoin="round"/>
<polygon points="629.0,603.5 625.8,597.5 632.2,597.5" fill="#f5821f" stroke="#f5821f" stroke-width="0.6" stroke-linejoin="round"/>
<polyline points="568.0,457.0 569.6,464.0 569.6,474.0 568.0,480.0 573.0,485.6 583.6,491.0 584.4,496.0 585.6,500.0 596.0,502.0 603.0,505.6 600.0,508.4 591.0,511.6 591.6,514.4 600.0,517.0 606.0,519.6 599.0,522.4 584.0,525.6 563.0,528.0 550.0,531.0 541.6,534.0 549.0,536.4 554.0,539.6 551.0,545.0 555.0,548.0 524.4,551.0 509.0,554.0 523.0,556.0 508.0,559.0 516.0,562.0 509.0,565.0 507.0,568.0 521.6,571.0 519.0,573.6 490.0,576.6 523.6,581.0 510.0,589.6 511.0,594.0 504.4,599.6" fill="none" stroke="#e8411e" stroke-width="1.3" stroke-linejoin="round"/>
<rect x="565.2" y="454.2" width="5.6" height="5.6" fill="#e8411e"/>
<rect x="566.8" y="461.2" width="5.6" height="5.6" fill="#e8411e"/>
<rect x="566.8" y="471.2" width="5.6" height="5.6" fill="#e8411e"/>
<rect x="565.2" y="477.2" width="5.6" height="5.6" fill="#e8411e"/>
<rect x="570.2" y="482.8" width="5.6" height="5.6" fill="#e8411e"/>
<rect x="580.8" y="488.2" width="5.6" height="5.6" fill="#e8411e"/>
<rect x="581.6" y="493.2" width="5.6" height="5.6" fill="#e8411e"/>
<rect x="582.8" y="497.2" width="5.6" height="5.6" fill="#e8411e"/>
<rect x="593.2" y="499.2" width="5.6" height="5.6" fill="#e8411e"/>
<rect x="600.2" y="502.8" width="5.6" height="5.6" fill="#e8411e"/>
<rect x="597.2" y="505.6" width="5.6" height="5.6" fill="#e8411e"/>
<rect x="588.2" y="508.8" width="5.6" height="5.6" fill="#e8411e"/>
<rect x="588.8" y="511.6" width="5.6" height="5.6" fill="#e8411e"/>
<rect x="597.2" y="514.2" width="5.6" height="5.6" fill="#e8411e"/>
<rect x="603.2" y="516.8" width="5.6" height="5.6" fill="#e8411e"/>
<rect x="596.2" y="519.6" width="5.6" height="5.6" fill="#e8411e"/>
<rect x="581.2" y="522.8" width="5.6" height="5.6" fill="#e8411e"/>
<rect x="560.2" y="525.2" width="5.6" height="5.6" fill="#e8411e"/>
<rect x="547.2" y="528.2" width="5.6" height="5.6" fill="#e8411e"/>
<rect x="538.8" y="531.2" width="5.6" height="5.6" fill="#e8411e"/>
<rect x="546.2" y="533.6" width="5.6" height="5.6" fill="#e8411e"/>
<rect x="551.2" y="536.8" width="5.6" height="5.6" fill="#e8411e"/>
<rect x="548.2" y="542.2" width="5.6" height="5.6" fill="#e8411e"/>
<rect x="552.2" y="545.2" width="5.6" height="5.6" fill="#e8411e"/>
<rect x="521.6" y="548.2" width="5.6" height="5.6" fill="#e8411e"/>
<rect x="506.2" y="551.2" width="5.6" height="5.6" fill="#e8411e"/>
<rect x="520.2" y="553.2" width="5.6" height="5.6" fill="#e8411e"/>
<rect x="505.2" y="556.2" width="5.6" height="5.6" fill="#e8411e"/>
<rect x="513.2" y="559.2" width="5.6" height="5.6" fill="#e8411e"/>
<rect x="506.2" y="562.2" width="5.6" height="5.6" fill="#e8411e"/>
<rect x="504.2" y="565.2" width="5.6" height="5.6" fill="#e8411e"/>
<rect x="518.8" y="568.2" width="5.6" height="5.6" fill="#e8411e"/>
<rect x="516.2" y="570.8" width="5.6" height="5.6" fill="#e8411e"/>
<rect x="487.2" y="573.8" width="5.6" height="5.6" fill="#e8411e"/>
<rect x="520.8" y="578.2" width="5.6" height="5.6" fill="#e8411e"/>
<rect x="507.2" y="586.8" width="5.6" height="5.6" fill="#e8411e"/>
<rect x="508.2" y="591.2" width="5.6" height="5.6" fill="#e8411e"/>
<rect x="501.6" y="596.8" width="5.6" height="5.6" fill="#e8411e"/>
<polyline points="484.4,457.0 484.4,464.0 484.4,474.0 484.4,480.0 484.4,485.6 484.4,491.6 484.4,497.0 485.0,500.0 485.0,503.0 486.0,506.0 489.0,510.0 493.0,514.0 496.0,519.0 499.6,522.4 498.4,525.0 511.6,528.0 518.0,531.0 523.6,534.0 525.6,538.0 525.0,540.0 518.0,545.0 534.4,547.6 545.6,552.4 547.6,556.0 549.6,559.6 541.6,562.4 559.0,565.0 564.0,568.0 569.0,571.0 572.0,574.0 577.6,577.0 584.0,581.0 592.0,589.4 612.0,594.0 625.0,599.0" fill="none" stroke="#3b2b9e" stroke-width="1.3" stroke-linejoin="round"/>
<circle cx="484.4" cy="457.0" r="3.3" fill="#3b2b9e"/>
<circle cx="484.4" cy="464.0" r="3.3" fill="#3b2b9e"/>
<circle cx="484.4" cy="474.0" r="3.3" fill="#3b2b9e"/>
<circle cx="484.4" cy="480.0" r="3.3" fill="#3b2b9e"/>
<circle cx="484.4" cy="485.6" r="3.3" fill="#3b2b9e"/>
<circle cx="484.4" cy="491.6" r="3.3" fill="#3b2b9e"/>
<circle cx="484.4" cy="497.0" r="3.3" fill="#3b2b9e"/>
<circle cx="485.0" cy="500.0" r="3.3" fill="#3b2b9e"/>
<circle cx="485.0" cy="503.0" r="3.3" fill="#3b2b9e"/>
<circle cx="486.0" cy="506.0" r="3.3" fill="#3b2b9e"/>
<circle cx="489.0" cy="510.0" r="3.3" fill="#3b2b9e"/>
<circle cx="493.0" cy="514.0" r="3.3" fill="#3b2b9e"/>
<circle cx="496.0" cy="519.0" r="3.3" fill="#3b2b9e"/>
<circle cx="499.6" cy="522.4" r="3.3" fill="#3b2b9e"/>
<circle cx="498.4" cy="525.0" r="3.3" fill="#3b2b9e"/>
<circle cx="511.6" cy="528.0" r="3.3" fill="#3b2b9e"/>
<circle cx="518.0" cy="531.0" r="3.3" fill="#3b2b9e"/>
<circle cx="523.6" cy="534.0" r="3.3" fill="#3b2b9e"/>
<circle cx="525.6" cy="538.0" r="3.3" fill="#3b2b9e"/>
<circle cx="525.0" cy="540.0" r="3.3" fill="#3b2b9e"/>
<circle cx="518.0" cy="545.0" r="3.3" fill="#3b2b9e"/>
<circle cx="534.4" cy="547.6" r="3.3" fill="#3b2b9e"/>
<circle cx="545.6" cy="552.4" r="3.3" fill="#3b2b9e"/>
<circle cx="547.6" cy="556.0" r="3.3" fill="#3b2b9e"/>
<circle cx="549.6" cy="559.6" r="3.3" fill="#3b2b9e"/>
<circle cx="541.6" cy="562.4" r="3.3" fill="#3b2b9e"/>
<circle cx="559.0" cy="565.0" r="3.3" fill="#3b2b9e"/>
<circle cx="564.0" cy="568.0" r="3.3" fill="#3b2b9e"/>
<circle cx="569.0" cy="571.0" r="3.3" fill="#3b2b9e"/>
<circle cx="572.0" cy="574.0" r="3.3" fill="#3b2b9e"/>
<circle cx="577.6" cy="577.0" r="3.3" fill="#3b2b9e"/>
<circle cx="584.0" cy="581.0" r="3.3" fill="#3b2b9e"/>
<circle cx="592.0" cy="589.4" r="3.3" fill="#3b2b9e"/>
<circle cx="612.0" cy="594.0" r="3.3" fill="#3b2b9e"/>
<circle cx="625.0" cy="599.0" r="3.3" fill="#3b2b9e"/>
</svg></body></html>
